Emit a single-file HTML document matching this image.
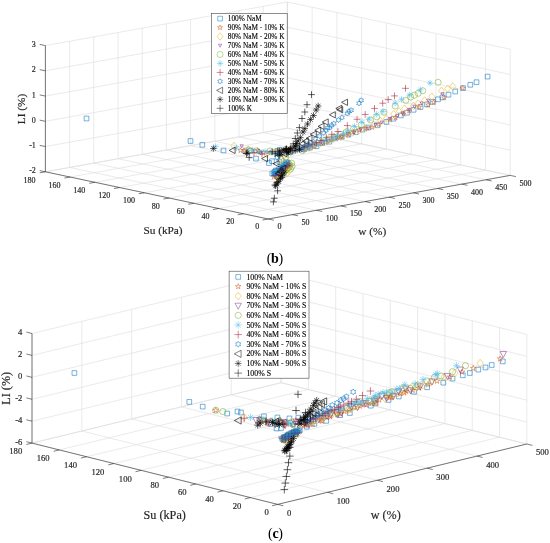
<!DOCTYPE html>
<html lang="en"><head><meta charset="utf-8"><title>LI - Su - w 3D scatter</title>
<style>html,body{margin:0;padding:0;background:#fff}svg{display:block}text{font-family:'Liberation Serif', 'DejaVu Serif', serif}</style>
</head><body>
<svg width="550" height="543" viewBox="0 0 550 543">
<rect width="550" height="543" fill="#fff"/>
<path d="M45.4 171.8L287.4 128.2L510.2 175.4M45.4 146.56L287.4 102.96L510.2 150.16M45.4 121.32L287.4 77.72L510.2 124.92M45.4 96.08L287.4 52.48L510.2 99.68M45.4 70.84L287.4 27.24L510.2 74.44M45.4 45.6L287.4 2L510.2 49.2M45.4 171.8V45.6M45.4 171.8L268.2 219M69.6 167.44V41.24M69.6 167.44L292.4 214.64M93.8 163.08V36.88M93.8 163.08L316.6 210.28M118 158.72V32.52M118 158.72L340.8 205.92M142.2 154.36V28.16M142.2 154.36L365 201.56M166.4 150V23.8M166.4 150L389.2 197.2M190.6 145.64V19.44M190.6 145.64L413.4 192.84M214.8 141.28V15.08M214.8 141.28L437.6 188.48M239 136.92V10.72M239 136.92L461.8 184.12M263.2 132.56V6.36M263.2 132.56L486 179.76M287.4 128.2V2M287.4 128.2L510.2 175.4M287.4 128.2V2M287.4 128.2L45.4 171.8M312.16 133.44V7.24M312.16 133.44L70.16 177.04M336.91 138.69V12.49M336.91 138.69L94.91 182.29M361.67 143.93V17.73M361.67 143.93L119.67 187.53M386.42 149.18V22.98M386.42 149.18L144.42 192.78M411.18 154.42V28.22M411.18 154.42L169.18 198.02M435.93 159.67V33.47M435.93 159.67L193.93 203.27M460.69 164.91V38.71M460.69 164.91L218.69 208.51M485.44 170.16V43.96M485.44 170.16L243.44 213.76M510.2 175.4V49.2M510.2 175.4L268.2 219" fill="none" stroke="#dedede" stroke-width="0.65"/>
<path d="M45.4 45.6L45.4 171.8L268.2 219L510.2 175.4M45.4 171.8l-5.67 -1.2M45.4 146.56l-5.67 -1.2M45.4 121.32l-5.67 -1.2M45.4 96.08l-5.67 -1.2M45.4 70.84l-5.67 -1.2M45.4 45.6l-5.67 -1.2M45.4 171.8l-5.71 1.03M70.16 177.04l-5.71 1.03M94.91 182.29l-5.71 1.03M119.67 187.53l-5.71 1.03M144.42 192.78l-5.71 1.03M169.18 198.02l-5.71 1.03M193.93 203.27l-5.71 1.03M218.69 208.51l-5.71 1.03M243.44 213.76l-5.71 1.03M268.2 219l-5.71 1.03M268.2 219l5.67 1.2M292.4 214.64l5.67 1.2M316.6 210.28l5.67 1.2M340.8 205.92l5.67 1.2M365 201.56l5.67 1.2M389.2 197.2l5.67 1.2M413.4 192.84l5.67 1.2M437.6 188.48l5.67 1.2M461.8 184.12l5.67 1.2M486 179.76l5.67 1.2M510.2 175.4l5.67 1.2" fill="none" stroke="#262626" stroke-width="0.6"/>
<g font-size="8.0" fill="#262626" stroke="#262626" stroke-width="0.18">
<text x="35.8" y="173.28" text-anchor="end">-2</text>
<text x="35.8" y="148.04" text-anchor="end">-1</text>
<text x="35.8" y="122.8" text-anchor="end">0</text>
<text x="35.8" y="97.56" text-anchor="end">1</text>
<text x="35.8" y="72.32" text-anchor="end">2</text>
<text x="35.8" y="47.08" text-anchor="end">3</text>
<text x="35.6" y="182.68" text-anchor="end">180</text>
<text x="60.44" y="187.87" text-anchor="end">160</text>
<text x="85.29" y="193.06" text-anchor="end">140</text>
<text x="110.13" y="198.25" text-anchor="end">120</text>
<text x="134.98" y="203.44" text-anchor="end">100</text>
<text x="159.82" y="208.62" text-anchor="end">80</text>
<text x="184.67" y="213.81" text-anchor="end">60</text>
<text x="209.51" y="219" text-anchor="end">40</text>
<text x="234.36" y="224.19" text-anchor="end">20</text>
<text x="259.2" y="229.38" text-anchor="end">0</text>
<text x="277.4" y="229.38">0</text>
<text x="301.6" y="225.02">50</text>
<text x="325.8" y="220.66">100</text>
<text x="350" y="216.3">150</text>
<text x="374.2" y="211.94">200</text>
<text x="398.4" y="207.58">250</text>
<text x="422.6" y="203.22">300</text>
<text x="446.8" y="198.86">350</text>
<text x="471" y="194.5">400</text>
<text x="495.2" y="190.14">450</text>
<text x="519.4" y="185.78">500</text>
</g>
<g font-size="11.3" fill="#262626" stroke="#262626" stroke-width="0.18" text-anchor="middle">
<text x="163" y="234.2">Su (kPa)</text>
<text x="372.3" y="235.2">w (%)</text>
<text transform="translate(25.2 109) rotate(-90)">LI (%)</text>
</g>
<path d="M84.15 116.15h4.7v4.7h-4.7zM188.15 138.65h4.7v4.7h-4.7zM199.95 142.45h4.7v4.7h-4.7zM221.15 148.15h4.7v4.7h-4.7zM253.65 156.25h4.7v4.7h-4.7zM266.65 160.65h4.7v4.7h-4.7zM485.25 74.25h4.7v4.7h-4.7zM474.15 79.85h4.7v4.7h-4.7zM467.95 82.45h4.7v4.7h-4.7zM460.65 85.75h4.7v4.7h-4.7zM452.85 89.15h4.7v4.7h-4.7zM446.15 92.35h4.7v4.7h-4.7zM440.15 95.05h4.7v4.7h-4.7zM435.65 96.95h4.7v4.7h-4.7zM430.35 99.55h4.7v4.7h-4.7zM424.65 101.95h4.7v4.7h-4.7zM418.15 104.65h4.7v4.7h-4.7zM411.25 107.45h4.7v4.7h-4.7zM404.65 110.35h4.7v4.7h-4.7zM398.55 113.05h4.7v4.7h-4.7zM391.15 116.35h4.7v4.7h-4.7zM384.05 119.55h4.7v4.7h-4.7zM374.95 122.95h4.7v4.7h-4.7zM366.1 125.18h4.7v4.7h-4.7zM360.07 127.24h4.7v4.7h-4.7zM353.34 129.89h4.7v4.7h-4.7zM346.03 132.3h4.7v4.7h-4.7zM339.46 134.36h4.7v4.7h-4.7zM332.96 136h4.7v4.7h-4.7zM326.98 139.35h4.7v4.7h-4.7zM319.96 140.57h4.7v4.7h-4.7zM314.22 143.91h4.7v4.7h-4.7zM307.59 145.21h4.7v4.7h-4.7zM301.68 146.83h4.7v4.7h-4.7zM248.15 148.65h4.7v4.7h-4.7zM243.15 149.15h4.7v4.7h-4.7zM275.21 148.89h4.7v4.7h-4.7zM277.45 147.47h4.7v4.7h-4.7zM287.59 149.87h4.7v4.7h-4.7zM269.65 158.85h4.7v4.7h-4.7zM277.15 159.65h4.7v4.7h-4.7zM283.98 159.99h4.7v4.7h-4.7zM283.68 161.34h4.7v4.7h-4.7zM283.91 162.63h4.7v4.7h-4.7zM281.69 163.45h4.7v4.7h-4.7zM280.91 163.08h4.7v4.7h-4.7zM280.28 165.82h4.7v4.7h-4.7zM279.05 166.85h4.7v4.7h-4.7zM276.72 166.89h4.7v4.7h-4.7zM274.86 168.45h4.7v4.7h-4.7zM273.59 168.08h4.7v4.7h-4.7zM272.77 169.3h4.7v4.7h-4.7zM271.92 170.03h4.7v4.7h-4.7zM269.94 171.26h4.7v4.7h-4.7z" fill="none" stroke="#0072BD" stroke-width="0.54"/>
<path d="M240.5 147.87L241.12 149.65L243.01 149.69L241.5 150.83L242.05 152.63L240.5 151.55L238.95 152.63L239.5 150.83L237.99 149.69L239.88 149.65zM257.5 147.77L258.12 149.55L260.01 149.59L258.5 150.73L259.05 152.53L257.5 151.45L255.95 152.53L256.5 150.73L254.99 149.59L256.88 149.55zM244 147.87L244.62 149.65L246.51 149.69L245 150.83L245.55 152.63L244 151.55L242.45 152.63L243 150.83L241.49 149.69L243.38 149.65zM263.5 149.87L264.12 151.65L266.01 151.69L264.5 152.83L265.05 154.63L263.5 153.55L261.95 154.63L262.5 152.83L260.99 151.69L262.88 151.65zM270.38 149.97L271 151.76L272.88 151.79L271.38 152.93L271.93 154.74L270.38 153.66L268.83 154.74L269.37 152.93L267.87 151.79L269.76 151.76zM281 148.55L281.62 150.34L283.51 150.37L282 151.51L282.55 153.32L281 152.24L279.45 153.32L280 151.51L278.49 150.37L280.38 150.34zM286.68 146.69L287.3 148.47L289.19 148.51L287.68 149.65L288.23 151.46L286.68 150.38L285.13 151.46L285.68 149.65L284.17 148.51L286.06 148.47zM288.79 146.82L289.41 148.6L291.29 148.64L289.79 149.78L290.34 151.59L288.79 150.51L287.24 151.59L287.78 149.78L286.28 148.64L288.17 148.6zM287.85 160.92L288.47 162.71L290.36 162.74L288.86 163.88L289.4 165.69L287.85 164.61L286.3 165.69L286.85 163.88L285.35 162.74L287.23 162.71zM286.29 163.32L286.91 165.1L288.79 165.14L287.29 166.28L287.84 168.09L286.29 167.01L284.74 168.09L285.29 166.28L283.78 165.14L285.67 165.1zM286.32 162.75L286.94 164.54L288.83 164.57L287.32 165.71L287.87 167.52L286.32 166.44L284.77 167.52L285.32 165.71L283.81 164.57L285.7 164.54zM284.07 164.4L284.69 166.19L286.58 166.22L285.07 167.36L285.62 169.17L284.07 168.09L282.52 169.17L283.07 167.36L281.56 166.22L283.45 166.19zM282.96 165.04L283.58 166.82L285.46 166.86L283.96 168L284.5 169.8L282.96 168.73L281.41 169.8L281.95 168L280.45 166.86L282.34 166.82zM282.74 168.3L283.36 170.08L285.24 170.12L283.74 171.26L284.29 173.07L282.74 171.99L281.19 173.07L281.74 171.26L280.23 170.12L282.12 170.08zM280.44 168.25L281.06 170.03L282.94 170.07L281.44 171.21L281.99 173.02L280.44 171.94L278.89 173.02L279.43 171.21L277.93 170.07L279.82 170.03zM278.14 168.51L278.76 170.29L280.65 170.33L279.14 171.47L279.69 173.27L278.14 172.19L276.59 173.27L277.14 171.47L275.64 170.33L277.52 170.29zM277.38 170.07L278 171.85L279.88 171.89L278.38 173.03L278.93 174.84L277.38 173.76L275.83 174.84L276.37 173.03L274.87 171.89L276.76 171.85zM277.16 170.99L277.78 172.78L279.67 172.81L278.16 173.95L278.71 175.76L277.16 174.68L275.61 175.76L276.16 173.95L274.66 172.81L276.54 172.78zM273.85 174.06L274.47 175.84L276.35 175.88L274.85 177.02L275.4 178.83L273.85 177.75L272.3 178.83L272.84 177.02L271.34 175.88L273.23 175.84zM462.7 85.46L463.32 87.25L465.21 87.29L463.7 88.43L464.25 90.23L462.7 89.15L461.15 90.23L461.7 88.43L460.19 87.29L462.08 87.25zM444.2 95.06L444.82 96.85L446.71 96.89L445.2 98.03L445.75 99.83L444.2 98.75L442.65 99.83L443.2 98.03L441.69 96.89L443.58 96.85zM433.6 99.66L434.22 101.45L436.11 101.49L434.6 102.63L435.15 104.43L433.6 103.35L432.05 104.43L432.6 102.63L431.09 101.49L432.98 101.45zM428.2 102.36L428.82 104.15L430.71 104.19L429.2 105.33L429.75 107.13L428.2 106.05L426.65 107.13L427.2 105.33L425.69 104.19L427.58 104.15zM419.1 104.56L419.72 106.35L421.61 106.39L420.1 107.53L420.65 109.33L419.1 108.25L417.55 109.33L418.1 107.53L416.59 106.39L418.48 106.35zM409.1 108.16L409.72 109.95L411.61 109.99L410.1 111.13L410.65 112.93L409.1 111.85L407.55 112.93L408.1 111.13L406.59 109.99L408.48 109.95zM403.5 111.36L404.12 113.15L406.01 113.19L404.5 114.33L405.05 116.13L403.5 115.05L401.95 116.13L402.5 114.33L400.99 113.19L402.88 113.15zM395.5 115.06L396.12 116.85L398.01 116.89L396.5 118.03L397.05 119.83L395.5 118.75L393.95 119.83L394.5 118.03L392.99 116.89L394.88 116.85zM390 117.16L390.62 118.95L392.51 118.99L391 120.13L391.55 121.93L390 120.85L388.45 121.93L389 120.13L387.49 118.99L389.38 118.95zM379 121.86L379.62 123.65L381.51 123.69L380 124.83L380.55 126.63L379 125.55L377.45 126.63L378 124.83L376.49 123.69L378.38 123.65zM372 124.66L372.62 126.45L374.51 126.49L373 127.63L373.55 129.43L372 128.35L370.45 129.43L371 127.63L369.49 126.49L371.38 126.45zM365.17 125.79L365.79 127.57L367.67 127.61L366.17 128.75L366.72 130.55L365.17 129.48L363.62 130.55L364.16 128.75L362.66 127.61L364.55 127.57zM359.26 127.41L359.87 129.19L361.76 129.23L360.26 130.37L360.8 132.17L359.26 131.1L357.71 132.17L358.25 130.37L356.75 129.23L358.64 129.19zM353.43 129.28L354.05 131.06L355.94 131.1L354.44 132.24L354.98 134.04L353.43 132.97L351.89 134.04L352.43 132.24L350.93 131.1L352.81 131.06zM348.54 132.01L349.16 133.79L351.05 133.83L349.54 134.97L350.09 136.78L348.54 135.7L346.99 136.78L347.54 134.97L346.03 133.83L347.92 133.79zM342 133.76L342.62 135.54L344.51 135.58L343.01 136.72L343.55 138.53L342 137.45L340.45 138.53L341 136.72L339.5 135.58L341.38 135.54zM337.53 135.05L338.15 136.83L340.03 136.87L338.53 138.01L339.08 139.81L337.53 138.74L335.98 139.81L336.53 138.01L335.02 136.87L336.91 136.83zM331.68 137.44L332.3 139.23L334.18 139.26L332.68 140.4L333.23 142.21L331.68 141.13L330.13 142.21L330.67 140.4L329.17 139.26L331.06 139.23zM325.49 139.96L326.11 141.75L328 141.78L326.49 142.92L327.04 144.73L325.49 143.65L323.94 144.73L324.49 142.92L322.99 141.78L324.87 141.75zM319.66 141.31L320.28 143.1L322.17 143.13L320.66 144.27L321.21 146.08L319.66 145L318.11 146.08L318.66 144.27L317.16 143.13L319.04 143.1zM314.47 143.95L315.09 145.73L316.97 145.77L315.47 146.91L316.02 148.72L314.47 147.64L312.92 148.72L313.46 146.91L311.96 145.77L313.85 145.73zM308.25 145.58L308.87 147.37L310.75 147.4L309.25 148.54L309.8 150.35L308.25 149.27L306.7 150.35L307.25 148.54L305.74 147.4L307.63 147.37zM303.16 147.15L303.78 148.93L305.67 148.97L304.17 150.11L304.71 151.91L303.16 150.83L301.62 151.91L302.16 150.11L300.66 148.97L302.54 148.93z" fill="none" stroke="#D95319" stroke-width="0.54"/>
<path d="M234 142.09L236.94 145.8L234 149.51L231.06 145.8zM248 145.79L250.94 149.5L248 153.21L245.06 149.5zM266.5 150.29L269.44 154L266.5 157.71L263.56 154zM275.96 148.14L278.9 151.85L275.96 155.55L273.01 151.85zM281.33 148.17L284.27 151.88L281.33 155.58L278.38 151.88zM291.25 146.25L294.19 149.95L291.25 153.66L288.3 149.95zM283 157.79L285.94 161.5L283 165.21L280.06 161.5zM286.5 155.79L289.44 159.5L286.5 163.21L283.56 159.5zM290.01 160.47L292.95 164.18L290.01 167.88L287.06 164.18zM288.52 161.47L291.47 165.18L288.52 168.88L285.58 165.18zM286.97 165.05L289.91 168.75L286.97 172.46L284.02 168.75zM286.25 165.66L289.2 169.37L286.25 173.07L283.31 169.37zM283.29 166.16L286.23 169.87L283.29 173.57L280.34 169.87zM281.54 168.42L284.49 172.13L281.54 175.83L278.6 172.13zM280.9 169.73L283.84 173.43L280.9 177.14L277.95 173.43zM278.89 169.69L281.84 173.39L278.89 177.1L275.95 173.39zM278.53 172.8L281.47 176.51L278.53 180.21L275.58 176.51zM277.11 173.66L280.05 177.37L277.11 181.07L274.16 177.37zM289.5 167.09L292.44 170.8L289.5 174.51L286.56 170.8zM287 169.59L289.94 173.3L287 177.01L284.06 173.3zM452.8 82.7L455.75 86.4L452.8 90.11L449.86 86.4zM447.6 84.89L450.55 88.6L447.6 92.3L444.66 88.6zM441.5 87.09L444.44 90.8L441.5 94.5L438.56 90.8zM431.9 92.89L434.84 96.6L431.9 100.3L428.95 96.6zM424.5 96.8L427.44 100.5L424.5 104.2L421.56 100.5zM418.2 99.7L421.14 103.4L418.2 107.11L415.25 103.4zM413.6 102.2L416.55 105.9L413.6 109.61L410.66 105.9zM404.5 104.89L407.44 108.6L404.5 112.3L401.56 108.6zM399.1 107.7L402.05 111.4L399.1 115.11L396.16 111.4zM393.6 110.39L396.55 114.1L393.6 117.8L390.66 114.1zM386.4 114.7L389.34 118.4L386.4 122.11L383.45 118.4zM380.5 117.3L383.44 121L380.5 124.7L377.56 121zM373.6 121.5L376.55 125.2L373.6 128.91L370.66 125.2zM366.08 124.37L369.02 128.07L366.08 131.78L363.13 128.07zM358.92 126.64L361.87 130.34L358.92 134.05L355.98 130.34zM352.62 128.83L355.57 132.53L352.62 136.24L349.68 132.53zM346.97 130.17L349.92 133.88L346.97 137.58L344.03 133.88zM340.86 133.3L343.8 137L340.86 140.71L337.91 137zM334.13 134.2L337.07 137.91L334.13 141.61L331.18 137.91zM328.27 136.56L331.22 140.26L328.27 143.97L325.33 140.26zM321.33 138.62L324.27 142.32L321.33 146.03L318.38 142.32zM314.96 140.86L317.91 144.57L314.96 148.27L312.02 144.57zM309.11 143.21L312.05 146.92L309.11 150.62L306.16 146.92zM303.55 145.37L306.5 149.07L303.55 152.78L300.61 149.07z" fill="none" stroke="#EDB120" stroke-width="0.54"/>
<path d="M240.1 144.72L243.29 144.72L241.7 147.75zM258.9 151.72L262.1 151.72L260.5 154.75zM265.4 151.22L268.6 151.22L267 154.25zM275.39 151.77L278.58 151.77L276.98 154.8zM279.1 150.55L282.29 150.55L280.7 153.58zM290.3 151.21L293.49 151.21L291.89 154.24zM288.12 163.59L291.31 163.59L289.72 166.62zM285.02 164.49L288.21 164.49L286.61 167.52zM283.64 164.75L286.83 164.75L285.23 167.78zM281.16 166.78L284.35 166.78L282.76 169.81zM280.03 169.21L283.22 169.21L281.62 172.24zM280.01 170.05L283.2 170.05L281.61 173.08zM278.28 172.78L281.47 172.78L279.87 175.81zM276.63 172.72L279.82 172.72L278.23 175.75zM273.18 173.82L276.37 173.82L274.77 176.85zM441 92.72L444.2 92.72L442.6 95.75zM426.6 99.12L429.8 99.12L428.2 102.15zM420.2 101.92L423.4 101.92L421.8 104.95zM412.9 105.32L416.1 105.32L414.5 108.35zM407.5 108.32L410.7 108.32L409.1 111.35zM400.9 111.72L404.1 111.72L402.5 114.75zM395.7 114.62L398.9 114.62L397.3 117.65zM388.4 117.42L391.6 117.42L390 120.45zM380.2 121.02L383.4 121.02L381.8 124.05zM373.9 123.52L377.1 123.52L375.5 126.55zM366.64 127.07L369.83 127.07L368.23 130.1zM359.09 128.12L362.28 128.12L360.69 131.15zM352.53 131.12L355.72 131.12L354.13 134.16zM346.45 132.27L349.64 132.27L348.04 135.3zM340.24 135.7L343.43 135.7L341.83 138.73zM334.42 136.84L337.61 136.84L336.01 139.87zM326.89 140.08L330.08 140.08L328.48 143.11zM321.11 141.91L324.3 141.91L322.7 144.94zM313.88 143.06L317.07 143.06L315.48 146.09zM308.39 145.83L311.58 145.83L309.98 148.86zM300.95 148.83L304.14 148.83L302.54 151.86z" fill="none" stroke="#7E2F8E" stroke-width="0.54"/>
<path d="M253.45 150.8a3.05 3.05 0 1 0 6.1 0a3.05 3.05 0 1 0 -6.1 0zM245.95 150a3.05 3.05 0 1 0 6.1 0a3.05 3.05 0 1 0 -6.1 0zM273.35 151.23a3.05 3.05 0 1 0 6.1 0a3.05 3.05 0 1 0 -6.1 0zM284.27 149.82a3.05 3.05 0 1 0 6.1 0a3.05 3.05 0 1 0 -6.1 0zM287.88 151.96a3.05 3.05 0 1 0 6.1 0a3.05 3.05 0 1 0 -6.1 0zM266.95 151a3.05 3.05 0 1 0 6.1 0a3.05 3.05 0 1 0 -6.1 0zM277.95 159.3a3.05 3.05 0 1 0 6.1 0a3.05 3.05 0 1 0 -6.1 0zM282.45 157a3.05 3.05 0 1 0 6.1 0a3.05 3.05 0 1 0 -6.1 0zM286.46 164.59a3.05 3.05 0 1 0 6.1 0a3.05 3.05 0 1 0 -6.1 0zM285.97 167.55a3.05 3.05 0 1 0 6.1 0a3.05 3.05 0 1 0 -6.1 0zM284.97 167.83a3.05 3.05 0 1 0 6.1 0a3.05 3.05 0 1 0 -6.1 0zM283 169.88a3.05 3.05 0 1 0 6.1 0a3.05 3.05 0 1 0 -6.1 0zM280.11 170.84a3.05 3.05 0 1 0 6.1 0a3.05 3.05 0 1 0 -6.1 0zM280.57 172.42a3.05 3.05 0 1 0 6.1 0a3.05 3.05 0 1 0 -6.1 0zM278.67 172.98a3.05 3.05 0 1 0 6.1 0a3.05 3.05 0 1 0 -6.1 0zM275.78 175.02a3.05 3.05 0 1 0 6.1 0a3.05 3.05 0 1 0 -6.1 0zM274.63 176.34a3.05 3.05 0 1 0 6.1 0a3.05 3.05 0 1 0 -6.1 0zM274.64 176.66a3.05 3.05 0 1 0 6.1 0a3.05 3.05 0 1 0 -6.1 0zM288.55 163.2a3.05 3.05 0 1 0 6.1 0a3.05 3.05 0 1 0 -6.1 0zM288.95 166.3a3.05 3.05 0 1 0 6.1 0a3.05 3.05 0 1 0 -6.1 0zM287.45 169a3.05 3.05 0 1 0 6.1 0a3.05 3.05 0 1 0 -6.1 0zM435.05 82.3a3.05 3.05 0 1 0 6.1 0a3.05 3.05 0 1 0 -6.1 0zM419.75 90.8a3.05 3.05 0 1 0 6.1 0a3.05 3.05 0 1 0 -6.1 0zM415.15 93.3a3.05 3.05 0 1 0 6.1 0a3.05 3.05 0 1 0 -6.1 0zM411.35 95.2a3.05 3.05 0 1 0 6.1 0a3.05 3.05 0 1 0 -6.1 0zM407.65 97a3.05 3.05 0 1 0 6.1 0a3.05 3.05 0 1 0 -6.1 0zM402.75 100.4a3.05 3.05 0 1 0 6.1 0a3.05 3.05 0 1 0 -6.1 0zM392.15 106a3.05 3.05 0 1 0 6.1 0a3.05 3.05 0 1 0 -6.1 0zM380.95 112.2a3.05 3.05 0 1 0 6.1 0a3.05 3.05 0 1 0 -6.1 0zM373.55 116.7a3.05 3.05 0 1 0 6.1 0a3.05 3.05 0 1 0 -6.1 0zM367.45 120a3.05 3.05 0 1 0 6.1 0a3.05 3.05 0 1 0 -6.1 0zM358.25 124.8a3.05 3.05 0 1 0 6.1 0a3.05 3.05 0 1 0 -6.1 0zM350.55 128.6a3.05 3.05 0 1 0 6.1 0a3.05 3.05 0 1 0 -6.1 0zM343.28 132.14a3.05 3.05 0 1 0 6.1 0a3.05 3.05 0 1 0 -6.1 0zM337.6 134.49a3.05 3.05 0 1 0 6.1 0a3.05 3.05 0 1 0 -6.1 0zM330.84 136.96a3.05 3.05 0 1 0 6.1 0a3.05 3.05 0 1 0 -6.1 0zM325.43 138.98a3.05 3.05 0 1 0 6.1 0a3.05 3.05 0 1 0 -6.1 0zM318.91 142.15a3.05 3.05 0 1 0 6.1 0a3.05 3.05 0 1 0 -6.1 0zM311.8 144.48a3.05 3.05 0 1 0 6.1 0a3.05 3.05 0 1 0 -6.1 0zM306.52 147.27a3.05 3.05 0 1 0 6.1 0a3.05 3.05 0 1 0 -6.1 0zM299.38 150.53a3.05 3.05 0 1 0 6.1 0a3.05 3.05 0 1 0 -6.1 0z" fill="none" stroke="#77AC30" stroke-width="0.54"/>
<path d="M212.3 146.5h6.4M215.5 143.3v6.4M213.24 144.24l4.53 4.53M213.24 148.76l4.53 -4.53M233.3 148h6.4M236.5 144.8v6.4M234.24 145.74l4.53 4.53M234.24 150.26l4.53 -4.53M249.3 150h6.4M252.5 146.8v6.4M250.24 147.74l4.53 4.53M250.24 152.26l4.53 -4.53M261.8 151.5h6.4M265 148.3v6.4M262.74 149.24l4.53 4.53M262.74 153.76l4.53 -4.53M268 152.12h6.4M271.2 148.92v6.4M268.94 149.86l4.53 4.53M268.94 154.38l4.53 -4.53M275.65 152.24h6.4M278.85 149.04v6.4M276.59 149.98l4.53 4.53M276.59 154.5l4.53 -4.53M290.85 151.15h6.4M294.05 147.95v6.4M291.79 148.89l4.53 4.53M291.79 153.42l4.53 -4.53M284.12 164.1h6.4M287.32 160.9v6.4M285.06 161.84l4.53 4.53M285.06 166.36l4.53 -4.53M283.21 163.67h6.4M286.41 160.47v6.4M284.14 161.41l4.53 4.53M284.14 165.93l4.53 -4.53M280.08 165.06h6.4M283.28 161.86v6.4M281.02 162.79l4.53 4.53M281.02 167.32l4.53 -4.53M280.26 168.06h6.4M283.46 164.86v6.4M281.2 165.8l4.53 4.53M281.2 170.32l4.53 -4.53M276.75 169.54h6.4M279.95 166.34v6.4M277.69 167.28l4.53 4.53M277.69 171.81l4.53 -4.53M277.06 170.57h6.4M280.26 167.37v6.4M278 168.31l4.53 4.53M278 172.83l4.53 -4.53M273.86 171.74h6.4M277.06 168.54v6.4M274.8 169.48l4.53 4.53M274.8 174.01l4.53 -4.53M271.65 171.89h6.4M274.85 168.69v6.4M272.58 169.63l4.53 4.53M272.58 174.16l4.53 -4.53M271.97 174.85h6.4M275.17 171.65v6.4M272.91 172.59l4.53 4.53M272.91 177.12l4.53 -4.53M426.8 83.1h6.4M430 79.9v6.4M427.74 80.84l4.53 4.53M427.74 85.36l4.53 -4.53M417.1 89.7h6.4M420.3 86.5v6.4M418.04 87.44l4.53 4.53M418.04 91.96l4.53 -4.53M406.3 95h6.4M409.5 91.8v6.4M407.24 92.74l4.53 4.53M407.24 97.26l4.53 -4.53M398.3 99.3h6.4M401.5 96.1v6.4M399.24 97.04l4.53 4.53M399.24 101.56l4.53 -4.53M392 103.1h6.4M395.2 99.9v6.4M392.94 100.84l4.53 4.53M392.94 105.36l4.53 -4.53M379.7 111.4h6.4M382.9 108.2v6.4M380.64 109.14l4.53 4.53M380.64 113.66l4.53 -4.53M373.4 114.3h6.4M376.6 111.1v6.4M374.34 112.04l4.53 4.53M374.34 116.56l4.53 -4.53M366 119h6.4M369.2 115.8v6.4M366.94 116.74l4.53 4.53M366.94 121.26l4.53 -4.53M358.8 122.3h6.4M362 119.1v6.4M359.74 120.04l4.53 4.53M359.74 124.56l4.53 -4.53M351.3 126.5h6.4M354.5 123.3v6.4M352.24 124.24l4.53 4.53M352.24 128.76l4.53 -4.53M345 130.5h6.4M348.2 127.3v6.4M345.94 128.24l4.53 4.53M345.94 132.76l4.53 -4.53M340.4 133.2h6.4M343.6 130v6.4M341.34 130.94l4.53 4.53M341.34 135.46l4.53 -4.53M333.62 135.77h6.4M336.82 132.57v6.4M334.55 133.51l4.53 4.53M334.55 138.03l4.53 -4.53M329.75 138.14h6.4M332.95 134.94v6.4M330.69 135.87l4.53 4.53M330.69 140.4l4.53 -4.53M323.75 139.85h6.4M326.95 136.65v6.4M324.68 137.58l4.53 4.53M324.68 142.11l4.53 -4.53M319.56 140.93h6.4M322.76 137.73v6.4M320.49 138.67l4.53 4.53M320.49 143.19l4.53 -4.53M314.91 144.25h6.4M318.11 141.05v6.4M315.85 141.99l4.53 4.53M315.85 146.51l4.53 -4.53M308.85 146.22h6.4M312.05 143.02v6.4M309.79 143.96l4.53 4.53M309.79 148.49l4.53 -4.53M304.14 147.48h6.4M307.34 144.28v6.4M305.07 145.22l4.53 4.53M305.07 149.74l4.53 -4.53M300.08 150.03h6.4M303.28 146.83v6.4M301.02 147.77l4.53 4.53M301.02 152.29l4.53 -4.53" fill="none" stroke="#4DBEEE" stroke-width="0.54"/>
<path d="M258.6 154h6.8M262 150.6v6.8M250.6 152.5h6.8M254 149.1v6.8M274.31 151.35h6.8M277.71 147.95v6.8M281.36 151.92h6.8M284.76 148.52v6.8M288.99 150.64h6.8M292.39 147.24v6.8M285.47 164.93h6.8M288.87 161.53v6.8M283.87 165.95h6.8M287.27 162.55v6.8M283.43 165.54h6.8M286.83 162.14v6.8M280.67 166.91h6.8M284.07 163.51v6.8M279.26 168.78h6.8M282.66 165.38v6.8M277.92 169.56h6.8M281.32 166.16v6.8M276.23 171.91h6.8M279.63 168.51v6.8M275.39 172h6.8M278.79 168.6v6.8M274.55 174.24h6.8M277.95 170.84v6.8M272.78 175.44h6.8M276.18 172.04v6.8M271.59 175.69h6.8M274.99 172.29v6.8M402.1 88.3h6.8M405.5 84.9v6.8M391.1 95.9h6.8M394.5 92.5v6.8M384.8 99.6h6.8M388.2 96.2v6.8M379.3 103.2h6.8M382.7 99.8v6.8M371.1 108.4h6.8M374.5 105v6.8M361.8 114.4h6.8M365.2 111v6.8M353.6 119.3h6.8M357 115.9v6.8M343.9 125.6h6.8M347.3 122.2v6.8M334.5 131.5h6.8M337.9 128.1v6.8M328.4 134.3h6.8M331.8 130.9v6.8M323 137.7h6.8M326.4 134.3v6.8M317.6 140.5h6.8M321 137.1v6.8M313.1 142.5h6.8M316.5 139.1v6.8M308.6 144.3h6.8M312 140.9v6.8M304.6 146h6.8M308 142.6v6.8M300.6 147.6h6.8M304 144.2v6.8M296.6 149.2h6.8M300 145.8v6.8" fill="none" stroke="#A2142F" stroke-width="0.54"/>
<path d="M259 148.86L259.79 150.13L261.29 150.18L260.58 151.5L261.29 152.82L259.79 152.87L259 154.14L258.21 152.87L256.71 152.82L257.42 151.5L256.71 150.18L258.21 150.13zM277.39 151.48L278.19 152.75L279.68 152.8L278.98 154.12L279.68 155.44L278.19 155.5L277.39 156.76L276.6 155.5L275.11 155.44L275.81 154.12L275.11 152.8L276.6 152.75zM282.77 149.58L283.56 150.85L285.05 150.9L284.35 152.22L285.05 153.54L283.56 153.59L282.77 154.86L281.97 153.59L280.48 153.54L281.18 152.22L280.48 150.9L281.97 150.85zM287.71 149.08L288.5 150.35L290 150.4L289.3 151.72L290 153.04L288.5 153.09L287.71 154.36L286.92 153.09L285.43 153.04L286.13 151.72L285.43 150.4L286.92 150.35zM277 154.86L277.79 156.13L279.29 156.18L278.58 157.5L279.29 158.82L277.79 158.87L277 160.14L276.21 158.87L274.71 158.82L275.42 157.5L274.71 156.18L276.21 156.13zM287.91 159.5L288.7 160.77L290.2 160.82L289.5 162.14L290.2 163.46L288.7 163.51L287.91 164.78L287.12 163.51L285.63 163.46L286.33 162.14L285.63 160.82L287.12 160.77zM286.02 161.33L286.81 162.6L288.31 162.65L287.61 163.97L288.31 165.29L286.81 165.34L286.02 166.61L285.23 165.34L283.74 165.29L284.44 163.97L283.74 162.65L285.23 162.6zM283.29 164.24L284.08 165.51L285.57 165.56L284.87 166.88L285.57 168.2L284.08 168.25L283.29 169.52L282.5 168.25L281 168.2L281.7 166.88L281 165.56L282.5 165.51zM282 164.89L282.79 166.16L284.29 166.21L283.59 167.53L284.29 168.85L282.79 168.9L282 170.17L281.21 168.9L279.72 168.85L280.42 167.53L279.72 166.21L281.21 166.16zM281.64 166.53L282.43 167.79L283.93 167.85L283.22 169.17L283.93 170.49L282.43 170.54L281.64 171.81L280.85 170.54L279.35 170.49L280.06 169.17L279.35 167.85L280.85 167.79zM278.99 167.87L279.79 169.14L281.28 169.19L280.58 170.51L281.28 171.83L279.79 171.88L278.99 173.15L278.2 171.88L276.71 171.83L277.41 170.51L276.71 169.19L278.2 169.14zM277.86 169.94L278.65 171.21L280.14 171.26L279.44 172.58L280.14 173.9L278.65 173.95L277.86 175.22L277.06 173.95L275.57 173.9L276.27 172.58L275.57 171.26L277.06 171.21zM275.09 170.83L275.88 172.1L277.37 172.15L276.67 173.47L277.37 174.79L275.88 174.85L275.09 176.11L274.3 174.85L272.8 174.79L273.5 173.47L272.8 172.15L274.3 172.1zM273.74 171.59L274.53 172.86L276.03 172.91L275.32 174.23L276.03 175.55L274.53 175.6L273.74 176.87L272.95 175.6L271.45 175.55L272.16 174.23L271.45 172.91L272.95 172.86zM361.2 97.66L361.99 98.93L363.49 98.98L362.78 100.3L363.49 101.62L361.99 101.67L361.2 102.94L360.41 101.67L358.91 101.62L359.62 100.3L358.91 98.98L360.41 98.93zM359 100.66L359.79 101.93L361.29 101.98L360.58 103.3L361.29 104.62L359.79 104.67L359 105.94L358.21 104.67L356.71 104.62L357.42 103.3L356.71 101.98L358.21 101.93zM349 108.76L349.79 110.03L351.29 110.08L350.58 111.4L351.29 112.72L349.79 112.77L349 114.04L348.21 112.77L346.71 112.72L347.42 111.4L346.71 110.08L348.21 110.03zM342 114.86L342.79 116.13L344.29 116.18L343.58 117.5L344.29 118.82L342.79 118.87L342 120.14L341.21 118.87L339.71 118.82L340.42 117.5L339.71 116.18L341.21 116.13zM333.8 120.96L334.59 122.23L336.09 122.28L335.38 123.6L336.09 124.92L334.59 124.97L333.8 126.24L333.01 124.97L331.51 124.92L332.22 123.6L331.51 122.28L333.01 122.23zM329.8 124.96L330.59 126.23L332.09 126.28L331.38 127.6L332.09 128.92L330.59 128.97L329.8 130.24L329.01 128.97L327.51 128.92L328.22 127.6L327.51 126.28L329.01 126.23zM323.7 130.06L324.49 131.33L325.99 131.38L325.28 132.7L325.99 134.02L324.49 134.07L323.7 135.34L322.91 134.07L321.41 134.02L322.12 132.7L321.41 131.38L322.91 131.33zM315.6 136.16L316.39 137.43L317.89 137.48L317.18 138.8L317.89 140.12L316.39 140.17L315.6 141.44L314.81 140.17L313.31 140.12L314.02 138.8L313.31 137.48L314.81 137.43zM351.2 107.56L351.99 108.83L353.49 108.88L352.78 110.2L353.49 111.52L351.99 111.57L351.2 112.84L350.41 111.57L348.91 111.52L349.62 110.2L348.91 108.88L350.41 108.83zM347.3 110.76L348.09 112.03L349.59 112.08L348.88 113.4L349.59 114.72L348.09 114.77L347.3 116.04L346.51 114.77L345.01 114.72L345.72 113.4L345.01 112.08L346.51 112.03zM338.5 117.36L339.29 118.63L340.79 118.68L340.08 120L340.79 121.32L339.29 121.37L338.5 122.64L337.71 121.37L336.21 121.32L336.92 120L336.21 118.68L337.71 118.63zM331.5 122.76L332.29 124.03L333.79 124.08L333.08 125.4L333.79 126.72L332.29 126.77L331.5 128.04L330.71 126.77L329.21 126.72L329.92 125.4L329.21 124.08L330.71 124.03zM327.7 125.26L328.49 126.53L329.99 126.58L329.28 127.9L329.99 129.22L328.49 129.27L327.7 130.54L326.91 129.27L325.41 129.22L326.12 127.9L325.41 126.58L326.91 126.53zM326 127.86L326.79 129.13L328.29 129.18L327.58 130.5L328.29 131.82L326.79 131.87L326 133.14L325.21 131.87L323.71 131.82L324.42 130.5L323.71 129.18L325.21 129.13zM319.5 133.36L320.29 134.63L321.79 134.68L321.08 136L321.79 137.32L320.29 137.37L319.5 138.64L318.71 137.37L317.21 137.32L317.92 136L317.21 134.68L318.71 134.63zM311 139.86L311.79 141.13L313.29 141.18L312.58 142.5L313.29 143.82L311.79 143.87L311 145.14L310.21 143.87L308.71 143.82L309.42 142.5L308.71 141.18L310.21 141.13zM308 141.86L308.79 143.13L310.29 143.18L309.58 144.5L310.29 145.82L308.79 145.87L308 147.14L307.21 145.87L305.71 145.82L306.42 144.5L305.71 143.18L307.21 143.13zM304.5 143.66L305.29 144.93L306.79 144.98L306.08 146.3L306.79 147.62L305.29 147.67L304.5 148.94L303.71 147.67L302.21 147.62L302.92 146.3L302.21 144.98L303.71 144.93zM301 145.36L301.79 146.63L303.29 146.68L302.58 148L303.29 149.32L301.79 149.37L301 150.64L300.21 149.37L298.71 149.32L299.42 148L298.71 146.68L300.21 146.63zM298 146.86L298.79 148.13L300.29 148.18L299.58 149.5L300.29 150.82L298.79 150.87L298 152.14L297.21 150.87L295.71 150.82L296.42 149.5L295.71 148.18L297.21 148.13z" fill="none" stroke="#0072BD" stroke-width="0.54"/>
<path d="M235.12 147.25L235.12 153.55L229.13 150.4zM267.52 155.45L267.52 161.75L261.54 158.6zM279.02 160.55L279.02 166.85L273.04 163.7zM286.84 150.52L286.84 156.82L280.86 153.67zM285.79 165.2L285.79 171.5L279.8 168.35zM283.12 168.27L283.12 174.57L277.13 171.42zM281.35 170.43L281.35 176.73L275.36 173.58zM347.52 99.15L347.52 105.45L341.54 102.3zM341.82 105.25L341.82 111.55L335.84 108.4zM335.32 111.65L335.32 117.95L329.34 114.8zM328.22 118.85L328.22 125.15L322.24 122zM320.72 127.05L320.72 133.35L314.74 130.2zM312.02 135.15L312.02 141.45L306.04 138.3zM304.92 140.65L304.92 146.95L298.94 143.8zM342.72 106.65L342.72 112.95L336.74 109.8zM324.02 123.15L324.02 129.45L318.04 126.3zM316.32 131.05L316.32 137.35L310.34 134.2zM308.32 138.05L308.32 144.35L302.34 141.2zM299.52 144.35L299.52 150.65L293.54 147.5z" fill="none" stroke="#000000" stroke-width="0.62"/>
<path d="M210.2 148.5h6.4M213.4 145.3v6.4M211.14 146.24l4.53 4.53M211.14 150.76l4.53 -4.53M244.1 152.9h6.4M247.3 149.7v6.4M245.04 150.64l4.53 4.53M245.04 155.16l4.53 -4.53M276.2 151.05h6.4M279.4 147.85v6.4M277.13 148.79l4.53 4.53M277.13 153.31l4.53 -4.53M285.27 151.74h6.4M288.47 148.54v6.4M286.21 149.48l4.53 4.53M286.21 154l4.53 -4.53M276.88 154.53h6.4M280.08 151.33v6.4M277.82 152.26l4.53 4.53M277.82 156.79l4.53 -4.53M280.47 150.24h6.4M283.67 147.04v6.4M281.4 147.97l4.53 4.53M281.4 152.5l4.53 -4.53M284.74 152.81h6.4M287.94 149.61v6.4M285.68 150.55l4.53 4.53M285.68 155.07l4.53 -4.53M286.96 149.11h6.4M290.16 145.91v6.4M287.89 146.85l4.53 4.53M287.89 151.37l4.53 -4.53M291.98 150.55h6.4M295.18 147.35v6.4M292.92 148.29l4.53 4.53M292.92 152.81l4.53 -4.53M296.28 149.27h6.4M299.48 146.07v6.4M297.22 147l4.53 4.53M297.22 151.53l4.53 -4.53M281.04 172.84h6.4M284.24 169.64v6.4M281.98 170.58l4.53 4.53M281.98 175.1l4.53 -4.53M279.07 175.77h6.4M282.27 172.57v6.4M280 173.51l4.53 4.53M280 178.03l4.53 -4.53M277.15 178.21h6.4M280.35 175.01v6.4M278.09 175.95l4.53 4.53M278.09 180.48l4.53 -4.53M275.35 181.45h6.4M278.55 178.25v6.4M276.29 179.19l4.53 4.53M276.29 183.71l4.53 -4.53M273.83 184.03h6.4M277.03 180.83v6.4M274.77 181.76l4.53 4.53M274.77 186.29l4.53 -4.53M272.34 185.83h6.4M275.54 182.63v6.4M273.27 183.57l4.53 4.53M273.27 188.09l4.53 -4.53M315 106h6.4M318.2 102.8v6.4M315.94 103.74l4.53 4.53M315.94 108.26l4.53 -4.53M313 110h6.4M316.2 106.8v6.4M313.94 107.74l4.53 4.53M313.94 112.26l4.53 -4.53M310.3 115.5h6.4M313.5 112.3v6.4M311.24 113.24l4.53 4.53M311.24 117.76l4.53 -4.53M307.3 119.5h6.4M310.5 116.3v6.4M308.24 117.24l4.53 4.53M308.24 121.76l4.53 -4.53M304.3 124h6.4M307.5 120.8v6.4M305.24 121.74l4.53 4.53M305.24 126.26l4.53 -4.53M301.6 128.6h6.4M304.8 125.4v6.4M302.54 126.34l4.53 4.53M302.54 130.86l4.53 -4.53M299.8 132h6.4M303 128.8v6.4M300.74 129.74l4.53 4.53M300.74 134.26l4.53 -4.53M297.2 137.7h6.4M300.4 134.5v6.4M298.14 135.44l4.53 4.53M298.14 139.96l4.53 -4.53M294.8 141h6.4M298 137.8v6.4M295.74 138.74l4.53 4.53M295.74 143.26l4.53 -4.53M291.8 146h6.4M295 142.8v6.4M292.74 143.74l4.53 4.53M292.74 148.26l4.53 -4.53M293.3 143.5h6.4M296.5 140.3v6.4M294.24 141.24l4.53 4.53M294.24 145.76l4.53 -4.53" fill="none" stroke="#000000" stroke-width="0.62"/>
<path d="M245.8 157.4h6.8M249.2 154v6.8M243.1 153.5h6.8M246.5 150.1v6.8M268.8 151.83h6.8M272.2 148.43v6.8M283.11 149.32h6.8M286.51 145.92v6.8M271.72 153.79h6.8M275.12 150.39v6.8M275.84 155.46h6.8M279.24 152.06v6.8M281.83 149.43h6.8M285.23 146.03v6.8M282.85 148.62h6.8M286.25 145.22v6.8M286.89 148.9h6.8M290.29 145.5v6.8M292 146.15h6.8M295.4 142.75v6.8M278.59 177.18h6.8M281.99 173.78v6.8M276.83 178.83h6.8M280.23 175.43v6.8M273.55 182.32h6.8M276.95 178.92v6.8M271.44 185.05h6.8M274.84 181.65v6.8M274.2 190.8h6.8M277.6 187.4v6.8M270.9 198.2h6.8M274.3 194.8v6.8M270 201.9h6.8M273.4 198.5v6.8M308.1 94.6h6.8M311.5 91.2v6.8M303.6 104.7h6.8M307 101.3v6.8M301.4 112h6.8M304.8 108.6v6.8M298.6 118.5h6.8M302 115.1v6.8M296 127.6h6.8M299.4 124.2v6.8M293.9 133h6.8M297.3 129.6v6.8M291.9 138.5h6.8M295.3 135.1v6.8M289.9 143.8h6.8M293.3 140.4v6.8M287.6 148h6.8M291 144.6v6.8" fill="none" stroke="#000000" stroke-width="0.62"/>
<rect x="211.3" y="13.4" width="75.9" height="100" fill="#fff" stroke="#444" stroke-width="0.6"/>
<g font-size="7.3" fill="#000" stroke-width="0.12">
<path d="M217.75 16.25h4.7v4.7h-4.7z" fill="none" stroke="#0072BD" stroke-width="0.5"/>
<text x="227.8" y="21.01" stroke="#000">100% NaM</text>
<path d="M220.1 24.94L220.72 26.72L222.61 26.76L221.1 27.9L221.65 29.7L220.1 28.62L218.55 29.7L219.1 27.9L217.59 26.76L219.48 26.72z" fill="none" stroke="#D95319" stroke-width="0.5"/>
<text x="227.8" y="29.98" stroke="#000">90% NaM - 10% K</text>
<path d="M220.1 32.84L223.04 36.54L220.1 40.25L217.16 36.54z" fill="none" stroke="#EDB120" stroke-width="0.5"/>
<text x="227.8" y="38.95" stroke="#000">80% NaM - 20% K</text>
<path d="M218.5 44.23L221.69 44.23L220.1 47.26z" fill="none" stroke="#7E2F8E" stroke-width="0.5"/>
<text x="227.8" y="47.92" stroke="#000">70% NaM - 30% K</text>
<path d="M217.05 54.48a3.05 3.05 0 1 0 6.1 0a3.05 3.05 0 1 0 -6.1 0z" fill="none" stroke="#77AC30" stroke-width="0.5"/>
<text x="227.8" y="56.89" stroke="#000">60% NaM - 40% K</text>
<path d="M216.9 63.45h6.4M220.1 60.25v6.4M217.84 61.19l4.53 4.53M217.84 65.71l4.53 -4.53" fill="none" stroke="#4DBEEE" stroke-width="0.5"/>
<text x="227.8" y="65.86" stroke="#000">50% NaM - 50% K</text>
<path d="M216.7 72.42h6.8M220.1 69.02v6.8" fill="none" stroke="#A2142F" stroke-width="0.5"/>
<text x="227.8" y="74.83" stroke="#000">40% NaM - 60% K</text>
<path d="M220.1 78.75L220.89 80.02L222.39 80.07L221.68 81.39L222.39 82.71L220.89 82.76L220.1 84.03L219.31 82.76L217.81 82.71L218.52 81.39L217.81 80.07L219.31 80.02z" fill="none" stroke="#0072BD" stroke-width="0.5"/>
<text x="227.8" y="83.8" stroke="#000">30% NaM - 70% K</text>
<path d="M222.62 87.21L222.62 93.51L216.63 90.36z" fill="none" stroke="#000000" stroke-width="0.5"/>
<text x="227.8" y="92.77" stroke="#000">20% NaM - 80% K</text>
<path d="M216.9 99.33h6.4M220.1 96.13v6.4M217.84 97.07l4.53 4.53M217.84 101.59l4.53 -4.53" fill="none" stroke="#000000" stroke-width="0.5"/>
<text x="227.8" y="101.74" stroke="#000">10% NaM - 90% K</text>
<path d="M216.7 108.3h6.8M220.1 104.9v6.8" fill="none" stroke="#000000" stroke-width="0.5"/>
<text x="227.8" y="110.71" stroke="#000">100% K</text>
</g>
<text x="274.8" y="262.5" font-size="14" letter-spacing="-0.4" fill="#000" text-anchor="middle">(<tspan font-weight="bold">b</tspan>)</text>
<path d="M32 443.1L281.1 382.7L526.8 444M32 421.18L281.1 360.78L526.8 422.08M32 399.26L281.1 338.86L526.8 400.16M32 377.34L281.1 316.94L526.8 378.24M32 355.42L281.1 295.02L526.8 356.32M32 333.5L281.1 273.1L526.8 334.4M32 443.1V333.5M32 443.1L277.7 504.4M81.82 431.02V321.42M81.82 431.02L327.52 492.32M131.64 418.94V309.34M131.64 418.94L377.34 480.24M181.46 406.86V297.26M181.46 406.86L427.16 468.16M231.28 394.78V285.18M231.28 394.78L476.98 456.08M281.1 382.7V273.1M281.1 382.7L526.8 444M281.1 382.7V273.1M281.1 382.7L32 443.1M308.4 389.51V279.91M308.4 389.51L59.3 449.91M335.7 396.32V286.72M335.7 396.32L86.6 456.72M363 403.13V293.53M363 403.13L113.9 463.53M390.3 409.94V300.34M390.3 409.94L141.2 470.34M417.6 416.76V307.16M417.6 416.76L168.5 477.16M444.9 423.57V313.97M444.9 423.57L195.8 483.97M472.2 430.38V320.78M472.2 430.38L223.1 490.78M499.5 437.19V327.59M499.5 437.19L250.4 497.59M526.8 444V334.4M526.8 444L277.7 504.4" fill="none" stroke="#dedede" stroke-width="0.65"/>
<path d="M32 333.5L32 443.1L277.7 504.4L526.8 444M32 443.1l-5.63 -1.4M32 421.18l-5.63 -1.4M32 399.26l-5.63 -1.4M32 377.34l-5.63 -1.4M32 355.42l-5.63 -1.4M32 333.5l-5.63 -1.4M32 443.1l-5.64 1.37M59.3 449.91l-5.64 1.37M86.6 456.72l-5.64 1.37M113.9 463.53l-5.64 1.37M141.2 470.34l-5.64 1.37M168.5 477.16l-5.64 1.37M195.8 483.97l-5.64 1.37M223.1 490.78l-5.64 1.37M250.4 497.59l-5.64 1.37M277.7 504.4l-5.64 1.37M277.7 504.4l5.63 1.4M327.52 492.32l5.63 1.4M377.34 480.24l5.63 1.4M427.16 468.16l5.63 1.4M476.98 456.08l5.63 1.4M526.8 444l5.63 1.4" fill="none" stroke="#262626" stroke-width="0.6"/>
<g font-size="8.6" fill="#262626" stroke="#262626" stroke-width="0.18">
<text x="22.4" y="444.78" text-anchor="end">-6</text>
<text x="22.4" y="422.86" text-anchor="end">-4</text>
<text x="22.4" y="400.94" text-anchor="end">-2</text>
<text x="22.4" y="379.02" text-anchor="end">0</text>
<text x="22.4" y="357.1" text-anchor="end">2</text>
<text x="22.4" y="335.18" text-anchor="end">4</text>
<text x="22.2" y="454.48" text-anchor="end">180</text>
<text x="49.59" y="461.24" text-anchor="end">160</text>
<text x="76.98" y="467.99" text-anchor="end">140</text>
<text x="104.37" y="474.75" text-anchor="end">120</text>
<text x="131.76" y="481.5" text-anchor="end">100</text>
<text x="159.14" y="488.26" text-anchor="end">80</text>
<text x="186.53" y="495.01" text-anchor="end">60</text>
<text x="213.92" y="501.77" text-anchor="end">40</text>
<text x="241.31" y="508.53" text-anchor="end">20</text>
<text x="268.7" y="515.28" text-anchor="end">0</text>
<text x="286.9" y="515.88">0</text>
<text x="336.72" y="503.8">100</text>
<text x="386.54" y="491.72">200</text>
<text x="436.36" y="479.64">300</text>
<text x="486.18" y="467.56">400</text>
<text x="536" y="455.48">500</text>
</g>
<g font-size="12.2" fill="#262626" stroke="#262626" stroke-width="0.18" text-anchor="middle">
<text x="164.7" y="518.5">Su (kPa)</text>
<text x="385.7" y="518.5">w (%)</text>
<text transform="translate(10.2 388.3) rotate(-90)">LI (%)</text>
</g>
<path d="M72.05 370.65h4.7v4.7h-4.7zM186.95 399.55h4.7v4.7h-4.7zM200.35 404.25h4.7v4.7h-4.7zM224.85 411.15h4.7v4.7h-4.7zM235.15 409.15h4.7v4.7h-4.7zM238.65 410.15h4.7v4.7h-4.7zM261.55 413.95h4.7v4.7h-4.7zM275.05 415.15h4.7v4.7h-4.7zM500.45 359.05h4.7v4.7h-4.7zM489.35 362.65h4.7v4.7h-4.7zM483.15 365.15h4.7v4.7h-4.7zM475.95 367.25h4.7v4.7h-4.7zM467.45 370.65h4.7v4.7h-4.7zM460.45 372.95h4.7v4.7h-4.7zM450.15 376.25h4.7v4.7h-4.7zM440.95 380.35h4.7v4.7h-4.7zM424.75 384.95h4.7v4.7h-4.7zM411.65 389.45h4.7v4.7h-4.7zM396.45 394.15h4.7v4.7h-4.7zM386.25 397.55h4.7v4.7h-4.7zM304.39 424.39h4.7v4.7h-4.7zM312 421.48h4.7v4.7h-4.7zM323.91 418.45h4.7v4.7h-4.7zM337.79 412.84h4.7v4.7h-4.7zM347.5 410.66h4.7v4.7h-4.7zM368.42 403.33h4.7v4.7h-4.7zM373.24 401.02h4.7v4.7h-4.7zM287.05 416.05h4.7v4.7h-4.7zM295.95 415.35h4.7v4.7h-4.7zM274.25 426.15h4.7v4.7h-4.7zM278.65 425.65h4.7v4.7h-4.7zM268.15 421.65h4.7v4.7h-4.7zM297.45 428.05h4.7v4.7h-4.7zM294.46 428.91h4.7v4.7h-4.7zM293.43 428.37h4.7v4.7h-4.7zM291.43 430.21h4.7v4.7h-4.7zM292.63 430.5h4.7v4.7h-4.7zM291.52 429.51h4.7v4.7h-4.7zM288.5 431.29h4.7v4.7h-4.7zM289.2 433.13h4.7v4.7h-4.7zM286.54 431.9h4.7v4.7h-4.7zM285.47 433.13h4.7v4.7h-4.7zM285.59 432.93h4.7v4.7h-4.7zM284.08 434.97h4.7v4.7h-4.7zM282.96 435.66h4.7v4.7h-4.7zM281.22 435.1h4.7v4.7h-4.7z" fill="none" stroke="#0072BD" stroke-width="0.54"/>
<path d="M215.7 407.36L216.39 409.35L218.5 409.39L216.82 410.66L217.43 412.68L215.7 411.48L213.97 412.68L214.58 410.66L212.9 409.39L215.01 409.35zM500.2 355.86L500.89 357.85L503 357.89L501.32 359.16L501.93 361.18L500.2 359.98L498.47 361.18L499.08 359.16L497.4 357.89L499.51 357.85zM473.2 365.36L473.89 367.35L476 367.39L474.32 368.66L474.93 370.68L473.2 369.48L471.47 370.68L472.08 368.66L470.4 367.39L472.51 367.35zM462 369.06L462.69 371.05L464.8 371.09L463.12 372.36L463.73 374.38L462 373.18L460.27 374.38L460.88 372.36L459.2 371.09L461.31 371.05zM450 374.06L450.69 376.05L452.8 376.09L451.12 377.36L451.73 379.38L450 378.18L448.27 379.38L448.88 377.36L447.2 376.09L449.31 376.05zM437 378.06L437.69 380.05L439.8 380.09L438.12 381.36L438.73 383.38L437 382.18L435.27 383.38L435.88 381.36L434.2 380.09L436.31 380.05zM428 381.56L428.69 383.55L430.8 383.59L429.12 384.86L429.73 386.88L428 385.68L426.27 386.88L426.88 384.86L425.2 383.59L427.31 383.55zM419 385.06L419.69 387.05L421.8 387.09L420.12 388.36L420.73 390.38L419 389.18L417.27 390.38L417.88 388.36L416.2 387.09L418.31 387.05zM303.38 422.84L304.07 424.84L306.18 424.88L304.5 426.15L305.11 428.17L303.38 426.97L301.65 428.17L302.26 426.15L300.58 424.88L302.69 424.84zM307.45 421.43L308.14 423.42L310.25 423.46L308.57 424.74L309.18 426.76L307.45 425.55L305.72 426.76L306.33 424.74L304.65 423.46L306.76 423.42zM312.66 421.33L313.35 423.32L315.46 423.36L313.78 424.63L314.39 426.65L312.66 425.45L310.93 426.65L311.54 424.63L309.86 423.36L311.96 423.32zM320.7 417.29L321.4 419.28L323.51 419.32L321.82 420.6L322.44 422.61L320.7 421.41L318.97 422.61L319.58 420.6L317.9 419.32L320.01 419.28zM321.98 418.19L322.68 420.19L324.79 420.23L323.1 421.5L323.72 423.52L321.98 422.32L320.25 423.52L320.86 421.5L319.18 420.23L321.29 420.19zM327 414.56L327.69 416.55L329.8 416.59L328.12 417.86L328.73 419.88L327 418.68L325.27 419.88L325.88 417.86L324.2 416.59L326.31 416.55zM330.26 413.54L330.95 415.53L333.06 415.57L331.38 416.85L331.99 418.87L330.26 417.66L328.52 418.87L329.13 416.85L327.45 415.57L329.56 415.53zM337.19 411.59L337.89 413.58L339.99 413.62L338.31 414.9L338.92 416.92L337.19 415.71L335.46 416.92L336.07 414.9L334.39 413.62L336.5 413.58zM340.61 410.44L341.31 412.43L343.41 412.48L341.73 413.75L342.34 415.77L340.61 414.56L338.88 415.77L339.49 413.75L337.81 412.48L339.92 412.43zM344.4 408.4L345.09 410.39L347.2 410.43L345.52 411.71L346.13 413.72L344.4 412.52L342.67 413.72L343.28 411.71L341.6 410.43L343.71 410.39zM349.51 407.11L350.2 409.1L352.31 409.14L350.63 410.42L351.24 412.44L349.51 411.23L347.77 412.44L348.39 410.42L346.71 409.14L348.81 409.1zM353.99 404.39L354.68 406.38L356.79 406.43L355.11 407.7L355.72 409.72L353.99 408.51L352.26 409.72L352.87 407.7L351.19 406.43L353.3 406.38zM359.93 403.06L360.62 405.05L362.73 405.1L361.05 406.37L361.66 408.39L359.93 407.18L358.2 408.39L358.81 406.37L357.13 405.1L359.24 405.05zM365.97 401.98L366.66 403.97L368.77 404.01L367.09 405.29L367.7 407.3L365.97 406.1L364.23 407.3L364.85 405.29L363.16 404.01L365.27 403.97zM371.45 400.54L372.14 402.53L374.25 402.57L372.57 403.85L373.18 405.87L371.45 404.66L369.72 405.87L370.33 403.85L368.65 402.57L370.76 402.53zM376 399.72L376.69 401.71L378.8 401.75L377.12 403.02L377.73 405.04L376 403.84L374.27 405.04L374.88 403.02L373.2 401.75L375.3 401.71zM379.17 396.88L379.86 398.87L381.97 398.91L380.29 400.19L380.9 402.21L379.17 401L377.44 402.21L378.05 400.19L376.37 398.91L378.47 398.87zM386.68 393.78L387.37 395.77L389.48 395.82L387.8 397.09L388.41 399.11L386.68 397.9L384.95 399.11L385.56 397.09L383.88 395.82L385.99 395.77zM390.16 394.19L390.85 396.18L392.96 396.22L391.28 397.5L391.89 399.52L390.16 398.31L388.43 399.52L389.04 397.5L387.36 396.22L389.47 396.18zM391.66 394.3L392.36 396.29L394.47 396.33L392.78 397.6L393.4 399.62L391.66 398.42L389.93 399.62L390.54 397.6L388.86 396.33L390.97 396.29zM400.37 390.7L401.06 392.69L403.17 392.73L401.49 394.01L402.1 396.02L400.37 394.82L398.64 396.02L399.25 394.01L397.57 392.73L399.67 392.69zM404.33 389.95L405.02 391.94L407.13 391.99L405.45 393.26L406.06 395.28L404.33 394.08L402.6 395.28L403.21 393.26L401.53 391.99L403.64 391.94zM406.24 388.39L406.93 390.38L409.04 390.42L407.36 391.7L407.97 393.71L406.24 392.51L404.51 393.71L405.12 391.7L403.44 390.42L405.55 390.38zM412.67 387.22L413.36 389.21L415.47 389.25L413.79 390.53L414.4 392.54L412.67 391.34L410.94 392.54L411.55 390.53L409.87 389.25L411.97 389.21zM260.45 416.24L261.14 418.23L263.25 418.28L261.57 419.55L262.18 421.57L260.45 420.36L258.72 421.57L259.33 419.55L257.65 418.28L259.76 418.23zM267.34 419.19L268.03 421.18L270.14 421.23L268.46 422.5L269.07 424.52L267.34 423.31L265.61 424.52L266.22 422.5L264.54 421.23L266.65 421.18zM270.98 417.84L271.67 419.83L273.78 419.88L272.1 421.15L272.71 423.17L270.98 421.96L269.25 423.17L269.86 421.15L268.18 419.88L270.28 419.83zM280.69 418.89L281.38 420.88L283.49 420.92L281.81 422.19L282.42 424.21L280.69 423.01L278.96 424.21L279.57 422.19L277.89 420.92L279.99 420.88zM285.51 418.82L286.2 420.82L288.31 420.86L286.63 422.13L287.24 424.15L285.51 422.95L283.78 424.15L284.39 422.13L282.71 420.86L284.82 420.82zM286.74 421.2L287.43 423.2L289.54 423.24L287.86 424.51L288.47 426.53L286.74 425.33L285.01 426.53L285.62 424.51L283.94 423.24L286.05 423.2zM293.35 422.23L294.04 424.22L296.15 424.27L294.47 425.54L295.08 427.56L293.35 426.35L291.62 427.56L292.23 425.54L290.55 424.27L292.66 424.22zM297.34 428.25L298.04 430.24L300.14 430.28L298.46 431.55L299.07 433.57L297.34 432.37L295.61 433.57L296.22 431.55L294.54 430.28L296.65 430.24zM297.17 428.21L297.86 430.2L299.97 430.25L298.29 431.52L298.9 433.54L297.17 432.33L295.44 433.54L296.05 431.52L294.37 430.25L296.48 430.2zM294.28 430.66L294.97 432.65L297.08 432.7L295.4 433.97L296.01 435.99L294.28 434.79L292.54 435.99L293.16 433.97L291.47 432.7L293.58 432.65zM293.03 429.57L293.72 431.57L295.83 431.61L294.15 432.88L294.76 434.9L293.03 433.7L291.3 434.9L291.91 432.88L290.23 431.61L292.34 431.57zM291.1 431.54L291.79 433.53L293.9 433.58L292.22 434.85L292.83 436.87L291.1 435.66L289.37 436.87L289.98 434.85L288.3 433.58L290.41 433.53zM290.48 433.35L291.18 435.35L293.29 435.39L291.6 436.66L292.22 438.68L290.48 437.48L288.75 438.68L289.36 436.66L287.68 435.39L289.79 435.35zM290.56 434.07L291.25 436.07L293.36 436.11L291.68 437.38L292.29 439.4L290.56 438.2L288.83 439.4L289.44 437.38L287.76 436.11L289.87 436.07zM287.58 432.42L288.27 434.42L290.38 434.46L288.7 435.73L289.31 437.75L287.58 436.55L285.85 437.75L286.46 435.73L284.78 434.46L286.88 434.42zM285.76 434.2L286.46 436.19L288.56 436.24L286.88 437.51L287.49 439.53L285.76 438.32L284.03 439.53L284.64 437.51L282.96 436.24L285.07 436.19zM285.98 434.77L286.68 436.76L288.78 436.8L287.1 438.08L287.71 440.09L285.98 438.89L284.25 440.09L284.86 438.08L283.18 436.8L285.29 436.76zM283.37 435.39L284.06 437.38L286.17 437.42L284.49 438.7L285.1 440.72L283.37 439.51L281.64 440.72L282.25 438.7L280.57 437.42L282.68 437.38zM283 436.76L283.69 438.75L285.8 438.79L284.12 440.07L284.73 442.09L283 440.88L281.27 442.09L281.88 440.07L280.2 438.79L282.31 438.75z" fill="none" stroke="#D95319" stroke-width="0.54"/>
<path d="M244 413.1L247.1 417L244 420.9L240.9 417zM480.1 359.3L483.2 363.2L480.1 367.1L477 363.2zM455 369.1L458.1 373L455 376.9L451.9 373zM444 373.1L447.1 377L444 380.9L440.9 377zM431 378.1L434.1 382L431 385.9L427.9 382zM423 381.1L426.1 385L423 388.9L419.9 385zM304.6 419.84L307.7 423.74L304.6 427.64L301.5 423.74zM309.8 419.29L312.9 423.19L309.8 427.09L306.7 423.19zM316.59 416.74L319.69 420.64L316.59 424.54L313.49 420.64zM321.21 413.02L324.31 416.92L321.21 420.82L318.11 416.92zM323.87 412.83L326.97 416.73L323.87 420.63L320.77 416.73zM332.28 410.2L335.38 414.1L332.28 418L329.18 414.1zM336.63 407.56L339.73 411.46L336.63 415.36L333.53 411.46zM339.23 407.71L342.33 411.61L339.23 415.51L336.13 411.61zM347.73 406.54L350.83 410.44L347.73 414.34L344.63 410.44zM353.02 403.15L356.12 407.05L353.02 410.95L349.92 407.05zM357.45 402.36L360.55 406.26L357.45 410.16L354.35 406.26zM362.46 399.28L365.56 403.18L362.46 407.08L359.36 403.18zM369.98 397.07L373.08 400.97L369.98 404.87L366.88 400.97zM375.7 398.09L378.8 401.99L375.7 405.89L372.6 401.99zM375.91 396.11L379.01 400.01L375.91 403.91L372.81 400.01zM385.41 394.95L388.51 398.85L385.41 402.75L382.31 398.85zM388.73 391.03L391.83 394.93L388.73 398.83L385.63 394.93zM392.74 392.39L395.84 396.29L392.74 400.19L389.64 396.29zM398.02 389.15L401.12 393.05L398.02 396.95L394.92 393.05zM402.93 387.27L406.03 391.17L402.93 395.07L399.83 391.17zM412.48 382.48L415.58 386.38L412.48 390.28L409.38 386.38zM417.05 382.45L420.15 386.35L417.05 390.25L413.95 386.35zM259.45 415.31L262.55 419.21L259.45 423.11L256.35 419.21zM264.24 417.14L267.34 421.04L264.24 424.94L261.14 421.04zM274.75 420.19L277.85 424.09L274.75 427.99L271.65 424.09zM277.61 418.41L280.71 422.31L277.61 426.21L274.51 422.31zM285.17 421.04L288.27 424.94L285.17 428.84L282.07 424.94zM291.62 417.65L294.72 421.55L291.62 425.45L288.52 421.55zM298.01 429.45L301.11 433.35L298.01 437.25L294.91 433.35zM296.42 428.27L299.52 432.17L296.42 436.07L293.32 432.17zM295.5 429.41L298.6 433.31L295.5 437.21L292.4 433.31zM293.41 430.32L296.51 434.22L293.41 438.12L290.31 434.22zM292.48 430.57L295.58 434.47L292.48 438.37L289.38 434.47zM289.83 431.39L292.93 435.29L289.83 439.19L286.73 435.29zM288.21 433.75L291.31 437.65L288.21 441.55L285.11 437.65zM287.94 433L291.04 436.9L287.94 440.8L284.84 436.9zM286.09 435.43L289.19 439.33L286.09 443.23L282.99 439.33zM285.01 434.15L288.11 438.05L285.01 441.95L281.91 438.05zM284.41 435.95L287.51 439.85L284.41 443.75L281.31 439.85zM283.51 435.22L286.61 439.12L283.51 443.02L280.41 439.12z" fill="none" stroke="#EDB120" stroke-width="0.54"/>
<path d="M500.11 351.55L506.49 351.55L503.3 357.61zM457.11 367.05L463.49 367.05L460.3 373.11zM444.21 373.45L450.59 373.45L447.4 379.51zM417.11 383.85L423.49 383.85L420.3 389.91zM264.81 419.95L271.19 419.95L268 426.01zM428.81 378.95L435.19 378.95L432 385.01zM303.78 421.55L310.16 421.55L306.97 427.61zM305.71 421.76L312.09 421.76L308.9 427.82zM312.73 415.55L319.11 415.55L315.92 421.61zM315.63 416.63L322.01 416.63L318.82 422.69zM323.73 413.06L330.11 413.06L326.92 419.12zM327.6 411.94L333.98 411.94L330.79 418.01zM334.18 411.91L340.56 411.91L337.37 417.97zM338.02 410.22L344.4 410.22L341.21 416.28zM348.31 403.98L354.69 403.98L351.5 410.04zM354.4 404.54L360.78 404.54L357.59 410.6zM359.86 400.83L366.24 400.83L363.05 406.9zM362.49 400.4L368.87 400.4L365.68 406.46zM371.6 398.19L377.98 398.19L374.79 404.25zM373.63 396.8L380.01 396.8L376.82 402.86zM378.75 393.4L385.13 393.4L381.94 399.47zM383.38 395.3L389.76 395.3L386.57 401.37zM390.01 393.51L396.39 393.51L393.2 399.58zM395.41 388.75L401.79 388.75L398.6 394.81zM402.47 386.03L408.85 386.03L405.66 392.09zM407.3 387.78L413.68 387.78L410.49 393.84zM252.78 417.48L259.16 417.48L255.97 423.54zM266.45 420.36L272.83 420.36L269.64 426.42zM272.1 421.73L278.48 421.73L275.29 427.79zM280.7 419.5L287.08 419.5L283.89 425.56zM281.76 422.23L288.14 422.23L284.95 428.29zM293.27 418.92L299.65 418.92L296.46 424.98zM294.29 430.26L300.67 430.26L297.48 436.32zM293.75 431.27L300.13 431.27L296.94 437.33zM290.16 430.42L296.54 430.42L293.35 436.48zM288.87 430.91L295.25 430.91L292.06 436.97zM289.59 432.7L295.97 432.7L292.78 438.76zM287.98 432.92L294.36 432.92L291.17 438.98zM286.31 433.88L292.69 433.88L289.5 439.94zM283.24 435.5L289.62 435.5L286.43 441.56zM283.52 434.51L289.9 434.51L286.71 440.57zM281.11 436.61L287.49 436.61L284.3 442.68zM278.63 436.72L285.01 436.72L281.82 442.79z" fill="none" stroke="#7E2F8E" stroke-width="0.54"/>
<path d="M212.59 410.3a3.11 3.11 0 1 0 6.22 0a3.11 3.11 0 1 0 -6.22 0zM219.69 411.5a3.11 3.11 0 1 0 6.22 0a3.11 3.11 0 1 0 -6.22 0zM462.29 365.7a3.11 3.11 0 1 0 6.22 0a3.11 3.11 0 1 0 -6.22 0zM449.39 371.7a3.11 3.11 0 1 0 6.22 0a3.11 3.11 0 1 0 -6.22 0zM437.89 376a3.11 3.11 0 1 0 6.22 0a3.11 3.11 0 1 0 -6.22 0zM431.39 377.3a3.11 3.11 0 1 0 6.22 0a3.11 3.11 0 1 0 -6.22 0zM423.89 381a3.11 3.11 0 1 0 6.22 0a3.11 3.11 0 1 0 -6.22 0zM414.89 385a3.11 3.11 0 1 0 6.22 0a3.11 3.11 0 1 0 -6.22 0zM304.42 422.39a3.11 3.11 0 1 0 6.22 0a3.11 3.11 0 1 0 -6.22 0zM309.78 420.83a3.11 3.11 0 1 0 6.22 0a3.11 3.11 0 1 0 -6.22 0zM317.33 417.56a3.11 3.11 0 1 0 6.22 0a3.11 3.11 0 1 0 -6.22 0zM321.09 413.91a3.11 3.11 0 1 0 6.22 0a3.11 3.11 0 1 0 -6.22 0zM327.3 413.01a3.11 3.11 0 1 0 6.22 0a3.11 3.11 0 1 0 -6.22 0zM333.99 412.47a3.11 3.11 0 1 0 6.22 0a3.11 3.11 0 1 0 -6.22 0zM343.98 408.35a3.11 3.11 0 1 0 6.22 0a3.11 3.11 0 1 0 -6.22 0zM351.32 406.07a3.11 3.11 0 1 0 6.22 0a3.11 3.11 0 1 0 -6.22 0zM357.25 401.63a3.11 3.11 0 1 0 6.22 0a3.11 3.11 0 1 0 -6.22 0zM366.25 401.28a3.11 3.11 0 1 0 6.22 0a3.11 3.11 0 1 0 -6.22 0zM371.1 398.88a3.11 3.11 0 1 0 6.22 0a3.11 3.11 0 1 0 -6.22 0zM379.05 394.51a3.11 3.11 0 1 0 6.22 0a3.11 3.11 0 1 0 -6.22 0zM386.45 392.68a3.11 3.11 0 1 0 6.22 0a3.11 3.11 0 1 0 -6.22 0zM388.78 391.95a3.11 3.11 0 1 0 6.22 0a3.11 3.11 0 1 0 -6.22 0zM400.15 387.9a3.11 3.11 0 1 0 6.22 0a3.11 3.11 0 1 0 -6.22 0zM407.1 388.33a3.11 3.11 0 1 0 6.22 0a3.11 3.11 0 1 0 -6.22 0zM259.43 420.2a3.11 3.11 0 1 0 6.22 0a3.11 3.11 0 1 0 -6.22 0zM267.56 421.39a3.11 3.11 0 1 0 6.22 0a3.11 3.11 0 1 0 -6.22 0zM276.44 420.82a3.11 3.11 0 1 0 6.22 0a3.11 3.11 0 1 0 -6.22 0zM287.86 422.68a3.11 3.11 0 1 0 6.22 0a3.11 3.11 0 1 0 -6.22 0zM293.03 432.05a3.11 3.11 0 1 0 6.22 0a3.11 3.11 0 1 0 -6.22 0zM291.68 433.92a3.11 3.11 0 1 0 6.22 0a3.11 3.11 0 1 0 -6.22 0zM291.06 433.73a3.11 3.11 0 1 0 6.22 0a3.11 3.11 0 1 0 -6.22 0zM287.74 434.89a3.11 3.11 0 1 0 6.22 0a3.11 3.11 0 1 0 -6.22 0zM287.83 435.36a3.11 3.11 0 1 0 6.22 0a3.11 3.11 0 1 0 -6.22 0zM285.23 436.25a3.11 3.11 0 1 0 6.22 0a3.11 3.11 0 1 0 -6.22 0zM284.83 437.98a3.11 3.11 0 1 0 6.22 0a3.11 3.11 0 1 0 -6.22 0zM281.28 437.66a3.11 3.11 0 1 0 6.22 0a3.11 3.11 0 1 0 -6.22 0zM280.49 439.67a3.11 3.11 0 1 0 6.22 0a3.11 3.11 0 1 0 -6.22 0zM279.48 439.32a3.11 3.11 0 1 0 6.22 0a3.11 3.11 0 1 0 -6.22 0z" fill="none" stroke="#77AC30" stroke-width="0.54"/>
<path d="M452.82 365.7h7.17M456.4 362.12v7.17M453.87 363.17l5.07 5.07M453.87 368.23l5.07 -5.07M433.62 373.6h7.17M437.2 370.02v7.17M434.67 371.07l5.07 5.07M434.67 376.13l5.07 -5.07M432.22 374.8h7.17M435.8 371.22v7.17M433.27 372.27l5.07 5.07M433.27 377.33l5.07 -5.07M419.42 379.6h7.17M423 376.02v7.17M420.47 377.07l5.07 5.07M420.47 382.13l5.07 -5.07M411.62 383.8h7.17M415.2 380.22v7.17M412.67 381.27l5.07 5.07M412.67 386.33l5.07 -5.07M246.92 417.4h7.17M250.5 413.82v7.17M247.97 414.87l5.07 5.07M247.97 419.93l5.07 -5.07M401.22 384.7h7.17M404.8 381.12v7.17M402.27 382.17l5.07 5.07M402.27 387.23l5.07 -5.07M304.03 420.49h7.17M307.61 416.91v7.17M305.08 417.96l5.07 5.07M305.08 423.03l5.07 -5.07M307.08 419.79h7.17M310.66 416.2v7.17M308.13 417.25l5.07 5.07M308.13 422.32l5.07 -5.07M312.42 416.82h7.17M316.01 413.24v7.17M313.47 414.29l5.07 5.07M313.47 419.36l5.07 -5.07M315.6 414.15h7.17M319.19 410.57v7.17M316.65 411.62l5.07 5.07M316.65 416.68l5.07 -5.07M319.74 414.04h7.17M323.32 410.46v7.17M320.79 411.51l5.07 5.07M320.79 416.58l5.07 -5.07M323.91 413.26h7.17M327.49 409.67v7.17M324.96 410.72l5.07 5.07M324.96 415.79l5.07 -5.07M326.08 410.62h7.17M329.67 407.03v7.17M327.13 408.08l5.07 5.07M327.13 413.15l5.07 -5.07M332.78 408.61h7.17M336.37 405.03v7.17M333.83 406.08l5.07 5.07M333.83 411.14l5.07 -5.07M335.01 408.55h7.17M338.59 404.97v7.17M336.06 406.02l5.07 5.07M336.06 411.09l5.07 -5.07M338.38 408.68h7.17M341.97 405.1v7.17M339.43 406.15l5.07 5.07M339.43 411.21l5.07 -5.07M345.24 404.84h7.17M348.82 401.25v7.17M346.29 402.3l5.07 5.07M346.29 407.37l5.07 -5.07M348.01 404.03h7.17M351.6 400.45v7.17M349.06 401.5l5.07 5.07M349.06 406.57l5.07 -5.07M351.69 403.09h7.17M355.28 399.51v7.17M352.74 400.56l5.07 5.07M352.74 405.63l5.07 -5.07M354.18 401.51h7.17M357.77 397.92v7.17M355.23 398.97l5.07 5.07M355.23 404.04l5.07 -5.07M358.43 402.46h7.17M362.02 398.87v7.17M359.48 399.92l5.07 5.07M359.48 404.99l5.07 -5.07M363.7 398.49h7.17M367.28 394.91v7.17M364.75 395.95l5.07 5.07M364.75 401.02l5.07 -5.07M369.45 399.03h7.17M373.03 395.45v7.17M370.5 396.5l5.07 5.07M370.5 401.57l5.07 -5.07M371.67 395.54h7.17M375.25 391.96v7.17M372.72 393.01l5.07 5.07M372.72 398.08l5.07 -5.07M374.7 394.37h7.17M378.29 390.78v7.17M375.75 391.83l5.07 5.07M375.75 396.9l5.07 -5.07M379.4 392.79h7.17M382.98 389.2v7.17M380.45 390.25l5.07 5.07M380.45 395.32l5.07 -5.07M383.06 392.09h7.17M386.64 388.5v7.17M384.11 389.55l5.07 5.07M384.11 394.62l5.07 -5.07M388.49 392.27h7.17M392.08 388.68v7.17M389.54 389.73l5.07 5.07M389.54 394.8l5.07 -5.07M393.31 389.13h7.17M396.89 385.54v7.17M394.36 386.59l5.07 5.07M394.36 391.66l5.07 -5.07M396.02 388.57h7.17M399.61 384.98v7.17M397.07 386.03l5.07 5.07M397.07 391.1l5.07 -5.07M260.24 419.05h7.17M263.83 415.46v7.17M261.29 416.51l5.07 5.07M261.29 421.58l5.07 -5.07M268.68 420.48h7.17M272.26 416.9v7.17M269.73 417.95l5.07 5.07M269.73 423.01l5.07 -5.07M272.2 423.87h7.17M275.78 420.29v7.17M273.25 421.34l5.07 5.07M273.25 426.4l5.07 -5.07M284.35 422.68h7.17M287.93 419.1v7.17M285.4 420.15l5.07 5.07M285.4 425.21l5.07 -5.07M286.6 423.21h7.17M290.18 419.63v7.17M287.65 420.68l5.07 5.07M287.65 425.74l5.07 -5.07M293.91 431.03h7.17M297.49 427.45v7.17M294.96 428.5l5.07 5.07M294.96 433.57l5.07 -5.07M293.28 430.61h7.17M296.86 427.02v7.17M294.33 428.07l5.07 5.07M294.33 433.14l5.07 -5.07M291.74 432.99h7.17M295.33 429.41v7.17M292.79 430.46l5.07 5.07M292.79 435.53l5.07 -5.07M290.49 432.63h7.17M294.07 429.05v7.17M291.54 430.1l5.07 5.07M291.54 435.17l5.07 -5.07M289.33 432.89h7.17M292.92 429.31v7.17M290.38 430.36l5.07 5.07M290.38 435.42l5.07 -5.07M289.38 435.05h7.17M292.97 431.46v7.17M290.43 432.51l5.07 5.07M290.43 437.58l5.07 -5.07M286.81 433.61h7.17M290.4 430.03v7.17M287.86 431.08l5.07 5.07M287.86 436.15l5.07 -5.07M286.49 434.28h7.17M290.07 430.69v7.17M287.54 431.74l5.07 5.07M287.54 436.81l5.07 -5.07M283.34 436.74h7.17M286.93 433.15v7.17M284.39 434.2l5.07 5.07M284.39 439.27l5.07 -5.07M283.16 437.17h7.17M286.74 433.59v7.17M284.21 434.64l5.07 5.07M284.21 439.71l5.07 -5.07M281.85 437.98h7.17M285.43 434.4v7.17M282.89 435.45l5.07 5.07M282.89 440.51l5.07 -5.07M280.72 436.75h7.17M284.3 433.17v7.17M281.77 434.22l5.07 5.07M281.77 439.29l5.07 -5.07M278.29 438.41h7.17M281.87 434.83v7.17M279.34 435.88l5.07 5.07M279.34 440.95l5.07 -5.07" fill="none" stroke="#4DBEEE" stroke-width="0.54"/>
<path d="M366.59 391h7.62M370.4 387.19v7.62M358.69 395.6h7.62M362.5 391.79v7.62M352.49 399.2h7.62M356.3 395.39v7.62M347.69 401.7h7.62M351.5 397.89v7.62M344.29 403.3h7.62M348.1 399.49v7.62M240.39 418.2h7.62M244.2 414.39v7.62M339.97 404.97h7.62M343.77 401.16v7.62M336.42 406.28h7.62M340.23 402.47v7.62M334.58 407.46h7.62M338.39 403.65v7.62M330.82 409.56h7.62M334.63 405.75v7.62M328.22 410.37h7.62M332.03 406.56v7.62M324.28 411.81h7.62M328.09 408v7.62M321.36 413.48h7.62M325.16 409.67v7.62M319.02 415.43h7.62M322.83 411.63v7.62M315.8 415.67h7.62M319.61 411.86v7.62M311.52 418.03h7.62M315.33 414.22v7.62M309.62 419.09h7.62M313.43 415.28v7.62M306.08 419.82h7.62M309.89 416.01v7.62M302.7 422.51h7.62M306.51 418.7v7.62M300.2 423.8h7.62M304.01 419.99v7.62M255.36 422.23h7.62M259.16 418.42v7.62M262.28 421.11h7.62M266.09 417.3v7.62M276.3 420.7h7.62M280.1 416.9v7.62M280.83 424.2h7.62M284.64 420.39v7.62M292.11 421.48h7.62M295.92 417.67v7.62M294.13 432.89h7.62M297.94 429.08v7.62M291.05 432.98h7.62M294.86 429.17v7.62M290.13 433.51h7.62M293.94 429.7v7.62M287.9 433.78h7.62M291.7 429.97v7.62M287.22 436.29h7.62M291.03 432.48v7.62M284.5 436h7.62M288.31 432.19v7.62M284.66 438.07h7.62M288.47 434.27v7.62M281.43 436.73h7.62M285.24 432.92v7.62M281.72 439.78h7.62M285.53 435.97v7.62M278.87 438.22h7.62M282.68 434.41v7.62" fill="none" stroke="#A2142F" stroke-width="0.54"/>
<path d="M353.2 388.96L354.08 390.37L355.75 390.43L354.96 391.9L355.75 393.37L354.08 393.43L353.2 394.84L352.32 393.43L350.65 393.37L351.44 391.9L350.65 390.43L352.32 390.37zM346.5 393.66L347.38 395.07L349.05 395.13L348.26 396.6L349.05 398.07L347.38 398.13L346.5 399.54L345.62 398.13L343.95 398.07L344.74 396.6L343.95 395.13L345.62 395.07zM343.5 395.66L344.38 397.07L346.05 397.13L345.26 398.6L346.05 400.07L344.38 400.13L343.5 401.54L342.62 400.13L340.95 400.07L341.74 398.6L340.95 397.13L342.62 397.07zM340.8 397.46L341.68 398.87L343.35 398.93L342.56 400.4L343.35 401.87L341.68 401.93L340.8 403.34L339.92 401.93L338.25 401.87L339.04 400.4L338.25 398.93L339.92 398.87zM337 399.98L337.88 401.39L339.55 401.45L338.76 402.92L339.55 404.39L337.88 404.44L337 405.86L336.12 404.44L334.45 404.39L335.24 402.92L334.45 401.45L336.12 401.39zM332.19 402.21L333.07 403.63L334.74 403.68L333.96 405.15L334.74 406.62L333.07 406.68L332.19 408.09L331.31 406.68L329.65 406.62L330.43 405.15L329.65 403.68L331.31 403.63zM328.66 405.08L329.54 406.49L331.21 406.55L330.43 408.02L331.21 409.49L329.54 409.54L328.66 410.96L327.78 409.54L326.12 409.49L326.9 408.02L326.12 406.55L327.78 406.49zM325.14 407.45L326.02 408.86L327.68 408.92L326.9 410.39L327.68 411.86L326.02 411.92L325.14 413.33L324.25 411.92L322.59 411.86L323.37 410.39L322.59 408.92L324.25 408.86zM320.9 409.82L321.78 411.24L323.44 411.29L322.66 412.76L323.44 414.23L321.78 414.29L320.9 415.7L320.02 414.29L318.35 414.23L319.13 412.76L318.35 411.29L320.02 411.24zM316.76 411.94L317.64 413.36L319.31 413.41L318.53 414.88L319.31 416.35L317.64 416.41L316.76 417.82L315.88 416.41L314.22 416.35L315 414.88L314.22 413.41L315.88 413.36zM312.4 414.51L313.28 415.92L314.95 415.98L314.16 417.45L314.95 418.92L313.28 418.98L312.4 420.39L311.52 418.98L309.85 418.92L310.64 417.45L309.85 415.98L311.52 415.92zM308.65 416.98L309.53 418.39L311.2 418.45L310.41 419.92L311.2 421.39L309.53 421.45L308.65 422.86L307.77 421.45L306.1 421.39L306.89 419.92L306.1 418.45L307.77 418.39zM305.12 418.7L306 420.11L307.66 420.17L306.88 421.64L307.66 423.11L306 423.16L305.12 424.58L304.24 423.16L302.57 423.11L303.35 421.64L302.57 420.17L304.24 420.11zM259.25 416.23L260.13 417.64L261.8 417.7L261.01 419.17L261.8 420.64L260.13 420.7L259.25 422.11L258.37 420.7L256.7 420.64L257.49 419.17L256.7 417.7L258.37 417.64zM280.29 418.67L281.17 420.08L282.83 420.14L282.05 421.61L282.83 423.08L281.17 423.14L280.29 424.55L279.41 423.14L277.74 423.08L278.52 421.61L277.74 420.14L279.41 420.08zM292.95 421.85L293.84 423.26L295.5 423.32L294.72 424.79L295.5 426.26L293.84 426.32L292.95 427.73L292.07 426.32L290.41 426.26L291.19 424.79L290.41 423.32L292.07 423.26zM299.08 427.79L299.97 429.2L301.63 429.26L300.85 430.73L301.63 432.2L299.97 432.26L299.08 433.67L298.2 432.26L296.54 432.2L297.32 430.73L296.54 429.26L298.2 429.2zM297.38 429.23L298.26 430.65L299.92 430.7L299.14 432.17L299.92 433.64L298.26 433.7L297.38 435.11L296.49 433.7L294.83 433.64L295.61 432.17L294.83 430.7L296.49 430.65zM295.52 428.88L296.4 430.29L298.06 430.35L297.28 431.82L298.06 433.29L296.4 433.34L295.52 434.76L294.64 433.34L292.97 433.29L293.75 431.82L292.97 430.35L294.64 430.29zM293.77 429.88L294.65 431.29L296.31 431.35L295.53 432.82L296.31 434.29L294.65 434.35L293.77 435.76L292.89 434.35L291.22 434.29L292 432.82L291.22 431.35L292.89 431.29zM291.13 432.34L292.01 433.75L293.67 433.81L292.89 435.28L293.67 436.75L292.01 436.81L291.13 438.22L290.24 436.81L288.58 436.75L289.36 435.28L288.58 433.81L290.24 433.75zM290.58 431.46L291.46 432.87L293.13 432.93L292.34 434.4L293.13 435.87L291.46 435.92L290.58 437.34L289.7 435.92L288.03 435.87L288.82 434.4L288.03 432.93L289.7 432.87zM287.34 432.86L288.22 434.27L289.89 434.33L289.11 435.8L289.89 437.27L288.22 437.33L287.34 438.74L286.46 437.33L284.8 437.27L285.58 435.8L284.8 434.33L286.46 434.27zM286.47 433.66L287.35 435.07L289.02 435.13L288.24 436.6L289.02 438.07L287.35 438.12L286.47 439.54L285.59 438.12L283.93 438.07L284.71 436.6L283.93 435.13L285.59 435.07zM283.79 434.14L284.68 435.55L286.34 435.61L285.56 437.08L286.34 438.55L284.68 438.61L283.79 440.02L282.91 438.61L281.25 438.55L282.03 437.08L281.25 435.61L282.91 435.55zM283.71 436.67L284.59 438.09L286.26 438.14L285.47 439.61L286.26 441.08L284.59 441.14L283.71 442.55L282.83 441.14L281.16 441.08L281.95 439.61L281.16 438.14L282.83 438.09z" fill="none" stroke="#0072BD" stroke-width="0.54"/>
<path d="M241.18 416.9L241.18 424.1L234.34 420.5zM326.68 397.8L326.68 405L319.84 401.4zM324.38 400.4L324.38 407.6L317.54 404zM321.88 403.4L321.88 410.6L315.04 407zM318.1 406.35L318.1 413.55L311.26 409.95zM316.04 409.39L316.04 416.59L309.2 412.99zM312.75 411.13L312.75 418.33L305.91 414.73zM310.58 414.25L310.58 421.45L303.74 417.85zM307.75 416.32L307.75 423.52L300.91 419.92zM305.33 418.56L305.33 425.76L298.49 422.16zM278.52 418.07L278.52 425.27L271.68 421.67z" fill="none" stroke="#000000" stroke-width="0.62"/>
<path d="M254.24 425.1h6.91M257.7 421.64v6.91M255.26 422.66l4.89 4.89M255.26 427.54l4.89 -4.89M256.84 423.2h6.91M260.3 419.74v6.91M257.86 420.76l4.89 4.89M257.86 425.64l4.89 -4.89M313.24 400.4h6.91M316.7 396.94v6.91M314.26 397.96l4.89 4.89M314.26 402.84l4.89 -4.89M311.54 403h6.91M315 399.54v6.91M312.56 400.56l4.89 4.89M312.56 405.44l4.89 -4.89M310.04 405.5h6.91M313.5 402.04v6.91M311.06 403.06l4.89 4.89M311.06 407.94l4.89 -4.89M307.34 409.16h6.91M310.79 405.7v6.91M308.35 406.72l4.89 4.89M308.35 411.6l4.89 -4.89M306.4 411.85h6.91M309.86 408.39v6.91M307.41 409.4l4.89 4.89M307.41 414.29l4.89 -4.89M304.44 414.04h6.91M307.89 410.58v6.91M305.45 411.59l4.89 4.89M305.45 416.48l4.89 -4.89M301.67 416.15h6.91M305.13 412.69v6.91M302.68 413.7l4.89 4.89M302.68 418.59l4.89 -4.89M300.83 419.22h6.91M304.29 415.76v6.91M301.84 416.77l4.89 4.89M301.84 421.66l4.89 -4.89M298.06 420.69h6.91M301.52 417.23v6.91M299.07 418.24l4.89 4.89M299.07 423.13l4.89 -4.89M296.47 424.03h6.91M299.93 420.57v6.91M297.48 421.59l4.89 4.89M297.48 426.47l4.89 -4.89M272.54 423.5h6.91M276 420.04v6.91M273.56 421.06l4.89 4.89M273.56 425.94l4.89 -4.89M276.04 424.5h6.91M279.5 421.04v6.91M277.06 422.06l4.89 4.89M277.06 426.94l4.89 -4.89M269.04 422.5h6.91M272.5 419.04v6.91M270.06 420.06l4.89 4.89M270.06 424.94l4.89 -4.89M289.99 438.57h6.91M293.45 435.12v6.91M291.01 436.13l4.89 4.89M291.01 441.02l4.89 -4.89M288.07 441.34h6.91M291.52 437.89v6.91M289.08 438.9l4.89 4.89M289.08 443.79l4.89 -4.89M287.42 442.64h6.91M290.87 439.18v6.91M288.43 440.19l4.89 4.89M288.43 445.08l4.89 -4.89M286.26 444.5h6.91M289.71 441.04v6.91M287.27 442.05l4.89 4.89M287.27 446.94l4.89 -4.89M285.53 445.27h6.91M288.98 441.82v6.91M286.54 442.83l4.89 4.89M286.54 447.72l4.89 -4.89M284.42 446.88h6.91M287.87 443.43v6.91M285.43 444.44l4.89 4.89M285.43 449.33l4.89 -4.89M283.65 448.17h6.91M287.1 444.71v6.91M284.66 445.73l4.89 4.89M284.66 450.61l4.89 -4.89M282.9 448.98h6.91M286.36 445.53v6.91M283.92 446.54l4.89 4.89M283.92 451.43l4.89 -4.89M281.45 450.44h6.91M284.9 446.98v6.91M282.46 448l4.89 4.89M282.46 452.88l4.89 -4.89M281.42 450.99h6.91M284.87 447.54v6.91M282.43 448.55l4.89 4.89M282.43 453.44l4.89 -4.89" fill="none" stroke="#000000" stroke-width="0.62"/>
<path d="M294.19 394.3h7.62M298 390.49v7.62M292.19 410.5h7.62M296 406.69v7.62M301.81 412.49h7.62M305.62 408.68v7.62M299.71 417.31h7.62M303.52 413.5v7.62M296.5 419.63h7.62M300.31 415.82v7.62M294.18 424h7.62M297.99 420.19v7.62M279.19 424h7.62M283 420.19v7.62M262.19 422h7.62M266 418.19v7.62M285.95 447.45h7.62M289.76 443.64v7.62M284.13 448.49h7.62M287.93 444.68v7.62M282.82 450.37h7.62M286.62 446.56v7.62M285.99 456.1h7.62M289.8 452.29v7.62M284.69 462.7h7.62M288.5 458.89v7.62M283.59 469.7h7.62M287.4 465.89v7.62M282.59 476.5h7.62M286.4 472.69v7.62M281.49 483.1h7.62M285.3 479.29v7.62M280.49 489.6h7.62M284.3 485.79v7.62" fill="none" stroke="#000000" stroke-width="0.62"/>
<rect x="229.1" y="271.2" width="79.9" height="107" fill="#fff" stroke="#444" stroke-width="0.6"/>
<g font-size="7.9" fill="#000" stroke-width="0.12">
<path d="M235.85 274.55h4.7v4.7h-4.7z" fill="none" stroke="#0072BD" stroke-width="0.5"/>
<text x="246.4" y="279.51" stroke="#000">100% NaM</text>
<path d="M238.2 283.57L238.89 285.57L241 285.61L239.32 286.88L239.93 288.9L238.2 287.7L236.47 288.9L237.08 286.88L235.4 285.61L237.51 285.57z" fill="none" stroke="#D95319" stroke-width="0.5"/>
<text x="246.4" y="289.13" stroke="#000">90% NaM - 10% S</text>
<path d="M238.2 292.24L241.3 296.14L238.2 300.04L235.1 296.14z" fill="none" stroke="#EDB120" stroke-width="0.5"/>
<text x="246.4" y="298.75" stroke="#000">80% NaM - 20% S</text>
<path d="M235.01 303.21L241.39 303.21L238.2 309.27z" fill="none" stroke="#7E2F8E" stroke-width="0.5"/>
<text x="246.4" y="308.37" stroke="#000">70% NaM - 30% S</text>
<path d="M235.09 315.38a3.11 3.11 0 1 0 6.22 0a3.11 3.11 0 1 0 -6.22 0z" fill="none" stroke="#77AC30" stroke-width="0.5"/>
<text x="246.4" y="317.99" stroke="#000">60% NaM - 40% S</text>
<path d="M234.62 325h7.17M238.2 321.42v7.17M235.67 322.47l5.07 5.07M235.67 327.53l5.07 -5.07" fill="none" stroke="#4DBEEE" stroke-width="0.5"/>
<text x="246.4" y="327.61" stroke="#000">50% NaM - 50% S</text>
<path d="M234.39 334.62h7.62M238.2 330.81v7.62" fill="none" stroke="#A2142F" stroke-width="0.5"/>
<text x="246.4" y="337.23" stroke="#000">40% NaM - 60% S</text>
<path d="M238.2 341.3L239.08 342.71L240.75 342.77L239.96 344.24L240.75 345.71L239.08 345.77L238.2 347.18L237.32 345.77L235.65 345.71L236.44 344.24L235.65 342.77L237.32 342.71z" fill="none" stroke="#0072BD" stroke-width="0.5"/>
<text x="246.4" y="346.85" stroke="#000">30% NaM - 70% S</text>
<path d="M241.08 350.26L241.08 357.46L234.24 353.86z" fill="none" stroke="#000000" stroke-width="0.5"/>
<text x="246.4" y="356.47" stroke="#000">20% NaM - 80% S</text>
<path d="M234.74 363.48h6.91M238.2 360.02v6.91M235.76 361.04l4.89 4.89M235.76 365.92l4.89 -4.89" fill="none" stroke="#000000" stroke-width="0.5"/>
<text x="246.4" y="366.09" stroke="#000">10% NaM - 90% S</text>
<path d="M234.39 373.1h7.62M238.2 369.29v7.62" fill="none" stroke="#000000" stroke-width="0.5"/>
<text x="246.4" y="375.71" stroke="#000">100% S</text>
</g>
<text x="275.3" y="538" font-size="14" letter-spacing="-0.4" fill="#000" text-anchor="middle">(<tspan font-weight="bold">c</tspan>)</text>
</svg>
</body></html>
